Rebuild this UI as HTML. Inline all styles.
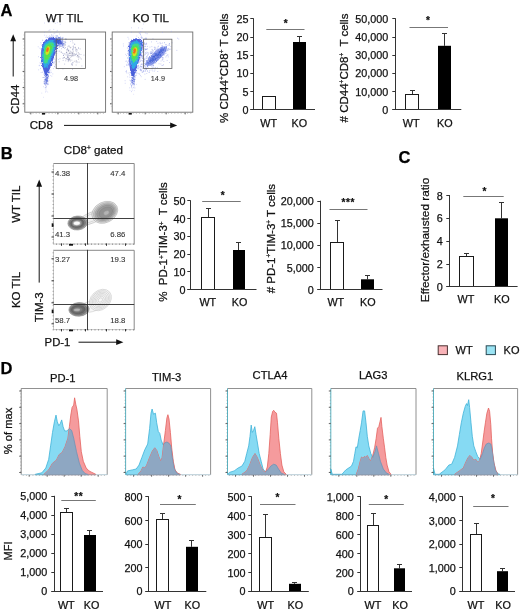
<!DOCTYPE html>
<html lang="en"><head><meta charset="utf-8"><title>Figure</title>
<style>html,body{margin:0;padding:0;background:#fff;}body{width:520px;height:609px;overflow:hidden;}svg{display:block;font-family:'Liberation Sans', sans-serif;}</style>
</head><body>
<svg width="520" height="609" viewBox="0 0 520 609">
<defs>
<filter id="b1" x="-20%" y="-20%" width="140%" height="140%"><feTurbulence type="fractalNoise" baseFrequency="0.8" numOctaves="2" seed="4" result="n"/><feDisplacementMap in="SourceGraphic" in2="n" scale="3" xChannelSelector="R" yChannelSelector="G"/><feGaussianBlur stdDeviation="0.6"/></filter>
<filter id="b2" x="-20%" y="-20%" width="140%" height="140%"><feGaussianBlur stdDeviation="0.45"/></filter>
<filter id="b3" x="-20%" y="-20%" width="140%" height="140%"><feGaussianBlur stdDeviation="0.3"/></filter>
</defs>
<rect x="0" y="0" width="520" height="609" fill="#fff"/>
<text x="0.60" y="15.50" font-size="16.5" text-anchor="start" font-weight="bold" fill="#000" stroke="#000" stroke-width="0.25" >A</text>
<text x="64.40" y="21.90" font-size="11.5" text-anchor="middle" font-weight="normal" fill="#111" stroke="#111" stroke-width="0.25" >WT TIL</text>
<text x="150.90" y="21.90" font-size="11.5" text-anchor="middle" font-weight="normal" fill="#111" stroke="#111" stroke-width="0.25" >KO TIL</text>
<rect x="24.80" y="32.00" width="80.80" height="80.20" fill="none" stroke="#6e6e6e" stroke-width="0.9" />
<line x1="22.60" y1="39.00" x2="24.30" y2="39.00" stroke="#555" stroke-width="1" />
<line x1="22.60" y1="55.20" x2="24.30" y2="55.20" stroke="#555" stroke-width="1" />
<line x1="22.60" y1="71.40" x2="24.30" y2="71.40" stroke="#555" stroke-width="1" />
<line x1="22.60" y1="87.60" x2="24.30" y2="87.60" stroke="#555" stroke-width="1" />
<line x1="22.60" y1="103.80" x2="24.30" y2="103.80" stroke="#555" stroke-width="1" />
<line x1="23.50" y1="35.00" x2="24.30" y2="35.00" stroke="#999" stroke-width="0.5" />
<line x1="23.50" y1="38.40" x2="24.30" y2="38.40" stroke="#999" stroke-width="0.5" />
<line x1="23.50" y1="41.80" x2="24.30" y2="41.80" stroke="#999" stroke-width="0.5" />
<line x1="23.50" y1="45.20" x2="24.30" y2="45.20" stroke="#999" stroke-width="0.5" />
<line x1="23.50" y1="48.60" x2="24.30" y2="48.60" stroke="#999" stroke-width="0.5" />
<line x1="23.50" y1="52.00" x2="24.30" y2="52.00" stroke="#999" stroke-width="0.5" />
<line x1="23.50" y1="55.40" x2="24.30" y2="55.40" stroke="#999" stroke-width="0.5" />
<line x1="23.50" y1="58.80" x2="24.30" y2="58.80" stroke="#999" stroke-width="0.5" />
<line x1="23.50" y1="62.20" x2="24.30" y2="62.20" stroke="#999" stroke-width="0.5" />
<line x1="23.50" y1="65.60" x2="24.30" y2="65.60" stroke="#999" stroke-width="0.5" />
<line x1="23.50" y1="69.00" x2="24.30" y2="69.00" stroke="#999" stroke-width="0.5" />
<line x1="23.50" y1="72.40" x2="24.30" y2="72.40" stroke="#999" stroke-width="0.5" />
<line x1="23.50" y1="75.80" x2="24.30" y2="75.80" stroke="#999" stroke-width="0.5" />
<line x1="23.50" y1="79.20" x2="24.30" y2="79.20" stroke="#999" stroke-width="0.5" />
<line x1="23.50" y1="82.60" x2="24.30" y2="82.60" stroke="#999" stroke-width="0.5" />
<line x1="23.50" y1="86.00" x2="24.30" y2="86.00" stroke="#999" stroke-width="0.5" />
<line x1="23.50" y1="89.40" x2="24.30" y2="89.40" stroke="#999" stroke-width="0.5" />
<line x1="23.50" y1="92.80" x2="24.30" y2="92.80" stroke="#999" stroke-width="0.5" />
<line x1="23.50" y1="96.20" x2="24.30" y2="96.20" stroke="#999" stroke-width="0.5" />
<line x1="23.50" y1="99.60" x2="24.30" y2="99.60" stroke="#999" stroke-width="0.5" />
<line x1="23.50" y1="103.00" x2="24.30" y2="103.00" stroke="#999" stroke-width="0.5" />
<line x1="23.50" y1="106.40" x2="24.30" y2="106.40" stroke="#999" stroke-width="0.5" />
<line x1="29.80" y1="112.80" x2="29.80" y2="113.80" stroke="#999" stroke-width="0.6" />
<line x1="33.00" y1="112.80" x2="33.00" y2="113.80" stroke="#999" stroke-width="0.6" />
<line x1="36.20" y1="112.80" x2="36.20" y2="113.80" stroke="#999" stroke-width="0.6" />
<line x1="39.40" y1="112.80" x2="39.40" y2="113.80" stroke="#999" stroke-width="0.6" />
<line x1="42.60" y1="112.80" x2="42.60" y2="113.80" stroke="#999" stroke-width="0.6" />
<line x1="45.80" y1="112.80" x2="45.80" y2="113.80" stroke="#999" stroke-width="0.6" />
<line x1="49.00" y1="112.80" x2="49.00" y2="113.80" stroke="#999" stroke-width="0.6" />
<line x1="52.20" y1="112.80" x2="52.20" y2="113.80" stroke="#999" stroke-width="0.6" />
<line x1="55.40" y1="112.80" x2="55.40" y2="113.80" stroke="#999" stroke-width="0.6" />
<line x1="58.60" y1="112.80" x2="58.60" y2="113.80" stroke="#999" stroke-width="0.6" />
<line x1="61.80" y1="112.80" x2="61.80" y2="113.80" stroke="#999" stroke-width="0.6" />
<line x1="65.00" y1="112.80" x2="65.00" y2="113.80" stroke="#999" stroke-width="0.6" />
<line x1="68.20" y1="112.80" x2="68.20" y2="113.80" stroke="#999" stroke-width="0.6" />
<line x1="71.40" y1="112.80" x2="71.40" y2="113.80" stroke="#999" stroke-width="0.6" />
<line x1="74.60" y1="112.80" x2="74.60" y2="113.80" stroke="#999" stroke-width="0.6" />
<line x1="77.80" y1="112.80" x2="77.80" y2="113.80" stroke="#999" stroke-width="0.6" />
<line x1="81.00" y1="112.80" x2="81.00" y2="113.80" stroke="#999" stroke-width="0.6" />
<line x1="84.20" y1="112.80" x2="84.20" y2="113.80" stroke="#999" stroke-width="0.6" />
<line x1="87.40" y1="112.80" x2="87.40" y2="113.80" stroke="#999" stroke-width="0.6" />
<line x1="90.60" y1="112.80" x2="90.60" y2="113.80" stroke="#999" stroke-width="0.6" />
<line x1="93.80" y1="112.80" x2="93.80" y2="113.80" stroke="#999" stroke-width="0.6" />
<line x1="97.00" y1="112.80" x2="97.00" y2="113.80" stroke="#999" stroke-width="0.6" />
<line x1="100.20" y1="112.80" x2="100.20" y2="113.80" stroke="#999" stroke-width="0.6" />
<line x1="103.40" y1="112.80" x2="103.40" y2="113.80" stroke="#999" stroke-width="0.6" />
<line x1="30.80" y1="112.70" x2="30.80" y2="114.40" stroke="#555" stroke-width="0.9" />
<line x1="57.80" y1="112.70" x2="57.80" y2="114.40" stroke="#555" stroke-width="0.9" />
<line x1="78.80" y1="112.70" x2="78.80" y2="114.40" stroke="#555" stroke-width="0.9" />
<line x1="97.80" y1="112.70" x2="97.80" y2="114.40" stroke="#555" stroke-width="0.9" />
<line x1="41.90" y1="113.80" x2="45.10" y2="113.80" stroke="#111" stroke-width="1.6" />
<path d="M46.7 60.0h0.8M48.0 50.1h0.8M44.9 51.0h0.8M52.5 59.6h0.8M52.5 57.5h0.8M49.9 56.4h0.8M40.3 63.4h0.8M49.9 60.2h0.8M44.0 32.4h0.8M45.5 48.0h0.8M49.8 53.6h0.8M51.6 46.6h0.8M49.2 58.9h0.8M43.3 74.1h0.8M49.1 68.5h0.8M47.0 44.9h0.8M47.2 52.6h0.8M50.8 57.3h0.8M48.0 42.4h0.8M44.6 68.3h0.8M44.8 56.5h0.8M52.4 36.5h0.8M46.8 69.6h0.8M40.6 49.2h0.8M49.2 44.2h0.8M50.7 53.5h0.8M41.2 63.1h0.8M49.9 65.6h0.8M54.0 59.0h0.8M50.9 38.6h0.8M51.9 47.0h0.8M48.4 38.7h0.8M45.2 47.2h0.8M56.8 30.4h0.8M42.1 56.1h0.8M53.7 61.6h0.8M44.2 23.0h0.8M51.0 45.4h0.8M42.4 65.1h0.8M52.9 56.4h0.8M48.9 59.3h0.8M54.3 62.2h0.8M49.9 60.8h0.8M40.1 68.5h0.8M51.7 60.8h0.8M41.2 45.5h0.8M54.6 32.8h0.8M46.3 66.1h0.8M40.7 72.5h0.8M51.0 52.5h0.8M48.9 61.9h0.8M47.4 67.7h0.8M46.3 48.7h0.8M52.8 54.8h0.8M43.5 64.8h0.8M55.2 49.4h0.8M42.9 51.7h0.8M48.3 50.4h0.8M55.8 42.5h0.8M55.6 39.5h0.8M44.3 61.1h0.8M52.0 64.8h0.8M49.7 55.9h0.8M48.3 60.9h0.8M47.4 57.2h0.8M50.9 54.3h0.8M50.9 61.1h0.8M56.4 58.9h0.8M47.3 49.3h0.8M47.1 65.0h0.8M46.5 58.4h0.8M59.8 24.4h0.8M43.5 56.3h0.8M49.8 57.0h0.8M45.8 61.6h0.8M50.4 47.9h0.8M58.1 59.5h0.8M46.3 52.5h0.8M47.6 53.1h0.8M37.8 46.8h0.8M54.4 40.6h0.8M46.9 65.3h0.8M49.9 72.2h0.8M41.9 48.9h0.8M46.2 61.3h0.8M56.9 22.6h0.8M55.1 37.3h0.8M53.5 36.6h0.8M47.5 68.3h0.8M47.6 56.2h0.8M51.6 56.1h0.8M45.9 72.2h0.8M53.3 51.0h0.8M61.6 41.7h0.8M52.7 51.3h0.8M48.0 62.5h0.8M48.5 61.7h0.8M44.3 35.2h0.8M52.4 42.8h0.8M46.3 36.0h0.8M52.7 63.5h0.8M56.0 43.6h0.8M50.1 40.4h0.8M49.4 73.3h0.8M42.5 72.1h0.8M52.9 52.4h0.8M38.3 69.8h0.8M49.0 46.8h0.8M49.6 59.1h0.8M56.2 42.6h0.8M51.1 72.3h0.8M54.8 52.6h0.8M43.9 65.8h0.8M48.8 55.5h0.8M54.8 51.6h0.8M39.5 48.2h0.8M39.6 62.8h0.8M50.7 46.9h0.8M47.3 63.9h0.8M46.9 69.8h0.8M46.7 66.4h0.8M52.4 73.9h0.8M44.4 64.1h0.8M42.2 40.2h0.8M38.8 65.7h0.8M43.4 53.2h0.8M47.7 53.6h0.8M45.7 56.5h0.8M55.9 55.4h0.8M49.3 66.2h0.8M49.5 38.9h0.8M44.6 66.5h0.8M42.5 46.0h0.8M51.6 64.0h0.8M47.4 63.6h0.8M50.9 40.0h0.8M42.9 45.6h0.8M53.2 47.7h0.8M45.8 44.4h0.8M42.3 51.8h0.8M43.1 57.7h0.8M38.2 56.7h0.8M48.6 30.5h0.8M51.9 51.1h0.8M40.5 42.5h0.8M50.4 48.7h0.8M50.7 63.3h0.8M50.8 58.2h0.8M53.1 62.5h0.8M53.4 29.4h0.8M50.4 70.1h0.8M47.9 48.3h0.8M59.1 34.0h0.8M47.0 83.1h0.8M43.6 61.7h0.8M56.5 53.5h0.8M49.5 65.0h0.8M44.9 52.5h0.8M48.5 64.0h0.8M48.6 51.7h0.8M44.8 49.2h0.8M52.1 55.7h0.8M46.2 43.5h0.8M58.0 68.9h0.8M54.9 23.4h0.8M50.4 60.0h0.8M54.9 59.9h0.8M47.5 60.2h0.8M38.9 65.3h0.8M50.9 45.8h0.8M51.4 76.2h0.8M43.6 45.4h0.8M49.5 56.3h0.8M48.2 42.2h0.8M55.9 67.4h0.8M45.5 37.4h0.8M54.2 66.6h0.8M54.9 64.6h0.8M44.5 56.7h0.8M40.6 44.0h0.8M47.5 60.2h0.8M45.6 52.2h0.8M49.9 58.7h0.8M50.9 56.8h0.8M46.0 63.2h0.8M49.9 44.2h0.8M45.9 53.7h0.8M47.8 55.8h0.8M48.2 56.1h0.8M49.7 38.9h0.8M48.7 66.8h0.8M50.6 52.0h0.8M51.7 42.7h0.8M40.5 53.8h0.8M43.6 62.3h0.8M47.8 22.1h0.8M41.9 72.3h0.8M48.9 37.5h0.8M44.6 59.8h0.8M50.3 56.4h0.8M53.7 63.2h0.8M47.6 61.1h0.8M54.0 66.4h0.8M54.3 41.6h0.8M46.8 62.6h0.8M45.7 66.6h0.8M49.7 65.1h0.8M44.0 84.2h0.8M54.0 52.1h0.8M45.1 85.0h0.8M45.8 64.2h0.8M52.6 54.6h0.8M43.4 55.6h0.8M48.4 67.6h0.8M51.7 54.7h0.8M51.3 60.9h0.8M49.3 54.8h0.8M46.5 62.1h0.8M45.0 46.0h0.8M50.6 36.6h0.8M49.6 29.8h0.8M44.8 60.4h0.8M50.9 53.6h0.8M49.6 37.0h0.8M55.4 61.1h0.8M54.3 44.0h0.8M50.3 32.2h0.8M50.4 65.5h0.8M40.7 52.4h0.8M53.7 33.3h0.8M42.4 40.4h0.8M47.9 37.0h0.8M48.3 57.0h0.8M50.1 62.7h0.8M53.1 68.6h0.8M43.8 47.3h0.8M45.6 40.6h0.8M48.2 54.0h0.8M52.8 35.3h0.8M43.4 53.1h0.8M48.1 50.2h0.8M49.3 44.9h0.8M50.9 58.6h0.8M49.1 45.9h0.8M51.7 21.5h0.8M44.4 54.0h0.8M41.9 55.6h0.8M51.1 37.7h0.8M47.9 50.1h0.8M49.5 61.5h0.8M49.6 43.8h0.8M48.0 53.1h0.8M51.1 57.9h0.8M47.4 37.5h0.8M48.0 45.0h0.8M44.0 52.1h0.8M46.3 55.0h0.8M51.3 49.3h0.8M58.7 51.3h0.8M52.9 56.0h0.8" stroke="#8d97ea" stroke-width="0.80" stroke-opacity="0.55" fill="none" stroke-linecap="butt"/>
<path d="M62.6 37.4h0.8M51.2 42.6h0.8M55.7 51.0h0.8M55.3 47.4h0.8M57.8 47.0h0.8M57.6 43.3h0.8M58.5 40.5h0.8M61.6 41.6h0.8M54.2 49.9h0.8M53.9 42.7h0.8M60.5 44.8h0.8M50.9 42.6h0.8M57.1 46.0h0.8M49.7 47.2h0.8M62.9 45.5h0.8M56.7 42.1h0.8M62.4 42.9h0.8M58.7 42.5h0.8M51.0 44.2h0.8M61.4 44.9h0.8M51.0 44.5h0.8M54.5 43.9h0.8M61.2 48.7h0.8M50.4 49.2h0.8M54.3 45.4h0.8M52.0 41.9h0.8M45.0 45.9h0.8M62.7 41.3h0.8M49.3 35.8h0.8M61.1 43.3h0.8M55.0 42.0h0.8M55.5 39.5h0.8M56.5 38.6h0.8M54.4 43.8h0.8M57.5 43.0h0.8M50.5 42.2h0.8M51.2 47.1h0.8M58.8 43.8h0.8M53.4 40.2h0.8M50.9 40.5h0.8M55.9 45.0h0.8M55.7 50.3h0.8M51.6 42.0h0.8M70.1 41.4h0.8M52.3 42.7h0.8M55.4 44.5h0.8M53.5 43.8h0.8M54.5 45.4h0.8M46.8 37.5h0.8M56.0 39.8h0.8M49.4 43.4h0.8M51.3 44.0h0.8M58.3 45.0h0.8M57.5 43.4h0.8M48.3 40.8h0.8M57.7 42.1h0.8M53.8 45.1h0.8M50.2 43.7h0.8M64.4 44.1h0.8M55.8 42.8h0.8M62.1 46.2h0.8M59.9 42.2h0.8M54.9 42.9h0.8M45.2 44.8h0.8M61.0 39.0h0.8M58.7 43.7h0.8M56.8 44.8h0.8M48.0 40.1h0.8M62.7 43.4h0.8M51.4 37.3h0.8M48.8 42.2h0.8M62.7 46.8h0.8M54.1 50.2h0.8M53.2 40.2h0.8M57.0 45.5h0.8M51.3 37.9h0.8M56.2 44.2h0.8M48.9 40.5h0.8M52.0 43.6h0.8M54.5 42.6h0.8M52.3 45.7h0.8M62.0 43.9h0.8M59.8 41.9h0.8M54.6 45.4h0.8M62.6 44.1h0.8M54.5 43.5h0.8M47.8 40.8h0.8M51.4 43.1h0.8M51.5 35.3h0.8M54.9 43.9h0.8M51.5 44.9h0.8M54.3 40.7h0.8M58.8 38.9h0.8M51.8 41.9h0.8M59.2 43.8h0.8M57.1 41.5h0.8M54.9 48.5h0.8M49.5 49.2h0.8M51.9 42.1h0.8M54.9 46.4h0.8M51.1 34.8h0.8M57.1 46.3h0.8M55.5 52.0h0.8M55.7 44.1h0.8M59.1 45.5h0.8M64.1 41.7h0.8M56.5 31.9h0.8M59.2 43.1h0.8M57.4 51.0h0.8M55.2 42.2h0.8M53.4 39.7h0.8M51.4 44.0h0.8M55.1 43.3h0.8M53.3 45.5h0.8M57.5 43.3h0.8M58.3 43.5h0.8M48.1 45.7h0.8M58.1 40.8h0.8M59.8 45.6h0.8M46.0 45.6h0.8" stroke="#7f8ce6" stroke-width="0.80" stroke-opacity="0.55" fill="none" stroke-linecap="butt"/>
<path d="M46.2 86.3h0.8M46.4 79.0h0.8M43.2 86.7h0.8M46.1 78.0h0.8M46.5 80.6h0.8M47.2 77.5h0.8M46.7 65.0h0.8M45.1 84.7h0.8M48.3 77.6h0.8M45.3 91.1h0.8M45.2 85.1h0.8M48.7 80.4h0.8M48.2 75.1h0.8M46.4 79.5h0.8M45.8 87.9h0.8M50.1 75.5h0.8M44.9 83.4h0.8M44.1 83.4h0.8M47.0 78.1h0.8M47.4 69.2h0.8M47.8 69.3h0.8M45.1 76.1h0.8M45.1 86.0h0.8M46.3 77.2h0.8M46.3 91.1h0.8M45.9 82.6h0.8M47.9 82.0h0.8M43.1 97.3h0.8M50.2 66.3h0.8M45.8 82.9h0.8M47.3 84.8h0.8M45.9 72.6h0.8M45.8 87.2h0.8M44.6 72.7h0.8M46.6 66.5h0.8M45.7 76.9h0.8M47.0 75.1h0.8M44.7 77.2h0.8M46.2 75.3h0.8M45.8 85.2h0.8M47.3 92.0h0.8M44.9 77.0h0.8M41.4 93.1h0.8M44.9 79.7h0.8M47.3 70.5h0.8M46.8 79.9h0.8M43.0 81.9h0.8M48.6 67.0h0.8M47.2 81.5h0.8M46.6 83.1h0.8M48.2 78.5h0.8M47.5 77.2h0.8M47.4 74.4h0.8M45.2 92.1h0.8M46.8 78.9h0.8M44.4 74.4h0.8M46.0 86.6h0.8M46.5 83.7h0.8M45.5 89.4h0.8M45.6 76.1h0.8" stroke="#a9b0ee" stroke-width="0.80" stroke-opacity="0.5" fill="none" stroke-linecap="butt"/>
<g filter="url(#b1)">
<path d="M46.8 39.0C48.1 38.3 50.1 37.6 51.7 37.6C53.3 37.6 55.2 38.3 56.4 38.8C57.5 39.3 58.4 39.6 58.6 40.6C58.8 41.6 58.2 43.4 57.8 45.0C57.4 46.6 56.8 48.3 56.2 50.2C55.6 52.1 55.0 54.2 54.2 56.6C53.4 59.0 52.4 62.0 51.5 64.5C50.6 67.0 49.7 69.5 48.9 71.4C48.1 73.3 47.3 75.7 46.6 76.0C45.9 76.3 45.3 75.0 44.6 73.4C43.9 71.8 43.0 68.8 42.4 66.5C41.8 64.2 41.5 62.1 41.3 59.6C41.1 57.1 41.1 54.0 41.2 51.7C41.3 49.4 41.6 47.5 42.1 45.8C42.6 44.1 43.3 42.8 44.1 41.7C44.9 40.6 45.5 39.7 46.8 39.0Z" fill="#4d63de" />
<path d="M46.1 42.1C47.3 41.4 49.3 40.2 50.9 40.0C52.5 39.8 54.9 40.2 55.8 41.1C56.6 42.0 56.6 43.3 56.2 45.3C55.8 47.2 54.5 50.3 53.6 52.7C52.7 55.2 51.9 57.9 50.9 60.2C49.9 62.5 48.7 65.3 47.8 66.6C46.8 67.8 45.9 68.4 45.1 67.7C44.3 66.9 43.4 64.5 42.9 62.4C42.5 60.2 42.4 57.2 42.4 54.9C42.4 52.6 42.6 50.2 42.9 48.4C43.2 46.6 43.4 45.3 44.0 44.2C44.5 43.2 45.0 42.8 46.1 42.1Z" fill="#2fa8e6" />
<path d="M46.6 43.8C47.5 43.2 49.0 42.4 50.2 42.3C51.4 42.2 53.0 42.5 53.6 43.4C54.2 44.3 54.0 46.1 53.6 47.8C53.2 49.5 52.2 51.7 51.4 53.7C50.6 55.7 49.8 57.9 48.9 59.6C48.0 61.3 47.1 63.6 46.3 64.0C45.5 64.4 44.7 63.2 44.2 61.8C43.8 60.4 43.6 57.6 43.6 55.6C43.6 53.6 43.8 51.3 44.0 49.7C44.2 48.1 44.6 47.0 45.0 46.0C45.4 45.0 45.7 44.4 46.6 43.8Z" fill="#3fdc8c" />
<path d="M46.9 45.7C47.5 45.2 48.8 44.6 49.6 44.6C50.5 44.6 51.5 44.8 51.8 45.5C52.2 46.2 52.0 47.5 51.7 48.8C51.4 50.2 50.6 52.0 50.0 53.5C49.4 55.1 48.8 56.9 48.2 58.0C47.5 59.1 46.8 60.2 46.3 60.2C45.8 60.3 45.3 59.2 45.0 58.2C44.8 57.2 44.7 55.7 44.7 54.3C44.7 53.0 44.9 51.0 45.0 49.8C45.2 48.7 45.5 48.0 45.8 47.4C46.1 46.7 46.2 46.2 46.9 45.7Z" fill="#5ae04a" />
</g>
<g filter="url(#b2)">
<ellipse cx="47.7" cy="50.6" rx="1.9" ry="4.4" fill="#d4e224" transform="rotate(14 47.7 50.6)"/>
<ellipse cx="47.5" cy="49.6" rx="1.25" ry="2.5" fill="#f2701c" transform="rotate(14 47.5 49.6)"/>
</g>
<path d="M60.6 42.5h0.8M58.3 40.2h0.8M57.4 42.3h0.8M60.2 39.7h0.8M59.4 42.2h0.8M55.5 41.8h0.8M58.1 40.6h0.8M59.4 44.6h0.8M56.5 41.6h0.8M54.7 44.7h0.8M56.4 43.1h0.8M56.3 42.3h0.8M65.7 39.3h0.8M57.1 41.9h0.8M58.8 40.2h0.8M63.6 43.8h0.8M53.9 41.3h0.8M53.5 41.8h0.8M57.0 41.2h0.8M61.4 43.0h0.8M56.4 37.1h0.8M60.8 44.0h0.8M55.9 42.2h0.8M59.2 43.1h0.8M53.3 38.7h0.8M60.1 43.7h0.8M62.4 38.1h0.8M58.5 42.5h0.8M65.3 42.4h0.8M57.7 41.2h0.8M60.9 41.6h0.8M61.8 41.3h0.8M59.5 40.8h0.8M59.4 40.5h0.8M53.9 41.8h0.8M59.6 40.8h0.8M58.2 43.4h0.8M56.2 40.3h0.8M59.4 43.0h0.8M59.3 37.5h0.8M61.2 43.3h0.8M58.7 41.0h0.8M59.4 41.0h0.8M56.6 39.2h0.8M57.5 39.8h0.8M55.3 41.4h0.8M54.9 41.3h0.8M55.8 41.1h0.8M61.6 43.2h0.8M56.7 40.8h0.8M60.1 38.6h0.8M56.9 41.2h0.8M57.3 41.2h0.8M59.7 43.6h0.8M60.2 43.4h0.8M57.8 41.2h0.8M58.1 40.7h0.8M59.3 38.3h0.8M57.7 41.1h0.8M56.2 40.5h0.8M59.9 41.7h0.8M65.4 39.0h0.8M59.4 38.1h0.8M58.9 47.1h0.8M52.4 39.2h0.8M60.0 41.5h0.8M61.5 38.1h0.8M60.3 43.0h0.8M59.0 40.5h0.8M60.4 41.3h0.8M59.4 40.8h0.8M53.1 39.2h0.8M58.4 43.0h0.8M56.4 40.6h0.8M59.9 42.4h0.8M60.0 46.2h0.8M57.7 37.2h0.8M59.4 45.0h0.8M60.1 43.9h0.8M57.5 39.6h0.8M61.3 40.8h0.8M54.9 37.9h0.8M63.0 47.4h0.8M57.4 39.5h0.8M59.6 40.4h0.8M61.7 42.7h0.8M54.9 42.7h0.8M56.9 41.3h0.8M58.7 40.9h0.8M59.8 40.6h0.8M55.7 35.8h0.8M56.0 38.9h0.8M58.4 41.6h0.8M59.7 42.3h0.8M57.1 39.5h0.8M53.6 39.1h0.8M59.3 42.9h0.8M58.3 41.1h0.8M60.7 42.5h0.8M59.8 43.3h0.8M58.0 44.0h0.8M57.4 40.3h0.8M57.2 39.3h0.8M60.9 46.2h0.8M58.1 42.5h0.8M60.7 44.1h0.8M62.3 40.5h0.8M56.6 41.6h0.8M61.9 43.1h0.8M56.7 40.0h0.8M57.6 39.3h0.8M62.6 41.9h0.8M56.9 45.3h0.8M61.1 43.3h0.8M56.7 41.6h0.8M61.9 44.2h0.8M61.4 42.9h0.8M59.9 41.7h0.8M58.6 44.2h0.8M55.1 39.9h0.8M59.5 40.7h0.8M57.2 42.6h0.8M62.8 44.6h0.8M60.4 39.1h0.8M63.1 43.6h0.8M59.2 39.5h0.8M59.2 39.5h0.8M58.3 42.4h0.8M58.4 42.0h0.8M55.4 43.1h0.8M58.3 37.7h0.8M58.6 40.0h0.8M56.3 39.9h0.8M60.1 39.7h0.8M57.1 43.9h0.8M60.2 41.9h0.8M58.9 41.4h0.8M57.8 42.7h0.8M60.1 37.2h0.8M59.1 39.9h0.8M60.5 41.1h0.8M57.2 45.5h0.8M56.8 38.5h0.8M56.9 35.9h0.8M53.7 40.2h0.8M58.4 37.6h0.8M54.5 41.1h0.8M56.9 40.1h0.8M58.3 44.2h0.8M62.4 45.3h0.8M58.7 42.0h0.8M61.8 45.8h0.8M57.4 42.0h0.8M59.1 41.9h0.8M58.3 38.7h0.8M58.4 38.3h0.8M61.0 43.7h0.8M54.6 42.7h0.8M62.0 39.1h0.8M62.3 44.8h0.8" stroke="#4058d4" stroke-width="0.80" stroke-opacity="0.75" fill="none" stroke-linecap="butt"/>
<path d="M48.9 71.7h0.8M46.5 78.9h0.8M46.2 77.8h0.8M47.8 70.4h0.8M45.0 70.6h0.8M45.6 74.2h0.8M46.3 78.2h0.8M46.3 74.0h0.8M45.1 81.2h0.8M46.9 77.5h0.8M45.1 83.9h0.8M45.1 79.9h0.8M47.5 75.9h0.8M47.4 72.1h0.8M47.1 78.0h0.8M43.9 79.9h0.8M44.5 82.7h0.8M45.2 76.2h0.8M46.5 75.5h0.8M46.5 74.5h0.8M46.8 77.1h0.8M47.2 64.7h0.8M47.4 77.3h0.8M43.8 77.3h0.8M46.2 81.8h0.8M44.1 83.8h0.8M44.9 87.7h0.8M45.6 80.0h0.8M46.0 72.0h0.8M47.0 81.2h0.8M47.5 81.0h0.8M45.9 69.5h0.8M45.5 73.9h0.8M44.8 79.5h0.8M46.5 75.8h0.8M46.3 76.4h0.8M46.0 80.4h0.8M47.4 74.0h0.8M43.7 83.3h0.8M45.7 82.0h0.8M44.2 75.4h0.8M46.6 70.5h0.8M45.1 80.2h0.8M46.7 84.3h0.8M45.5 70.6h0.8M46.3 81.3h0.8M46.7 71.2h0.8M46.7 80.6h0.8M46.8 74.9h0.8M46.1 80.6h0.8M46.0 68.7h0.8M46.2 79.2h0.8M45.7 81.0h0.8M45.3 76.6h0.8M45.4 79.5h0.8M48.0 76.0h0.8M47.9 84.1h0.8M46.7 79.7h0.8M48.2 76.4h0.8M46.2 72.2h0.8M46.1 83.1h0.8M46.5 78.9h0.8M45.7 77.7h0.8M43.9 81.6h0.8M45.9 72.0h0.8M45.4 73.2h0.8M46.6 81.8h0.8M44.0 81.0h0.8M47.3 74.5h0.8M44.5 73.5h0.8M45.1 78.5h0.8M46.3 67.9h0.8M46.8 70.1h0.8M47.5 71.7h0.8M45.5 73.1h0.8M44.9 82.8h0.8M46.8 79.8h0.8M46.9 70.1h0.8M45.6 74.5h0.8M44.6 79.2h0.8M45.4 73.7h0.8M45.5 67.7h0.8M46.2 83.0h0.8M46.6 72.6h0.8M42.7 77.5h0.8M47.3 78.4h0.8M46.6 83.7h0.8M47.5 75.1h0.8M47.0 80.6h0.8M44.3 75.0h0.8" stroke="#4a60d8" stroke-width="0.80" stroke-opacity="0.7" fill="none" stroke-linecap="butt"/>
<path d="M62.2 53.3h0.9M73.2 47.6h0.9M58.7 61.8h0.9M72.1 62.8h0.9M62.7 60.4h0.9M81.4 66.0h0.9M68.8 55.6h0.9M69.2 60.0h0.9M75.7 54.5h0.9M62.5 58.4h0.9M67.4 57.8h0.9M71.4 63.7h0.9M76.3 51.3h0.9M71.9 64.6h0.9M67.0 56.6h0.9M76.5 61.5h0.9M72.9 46.1h0.9M63.1 55.5h0.9M72.1 69.3h0.9M65.3 60.8h0.9M74.2 44.0h0.9M65.5 55.0h0.9M67.3 53.1h0.9M72.6 49.1h0.9M72.6 50.2h0.9M67.0 57.2h0.9M66.8 55.7h0.9M78.8 54.2h0.9M69.2 58.4h0.9M68.0 60.5h0.9M62.9 57.7h0.9M67.2 49.2h0.9M79.7 48.9h0.9M79.7 57.9h0.9M78.0 48.1h0.9M76.6 62.7h0.9M69.4 53.2h0.9M83.5 55.1h0.9M67.7 50.2h0.9M72.5 56.0h0.9M71.0 64.3h0.9M68.2 56.8h0.9M78.0 48.0h0.9M75.7 65.0h0.9M62.5 47.4h0.9M64.3 42.9h0.9M72.5 42.9h0.9M72.7 62.7h0.9M61.1 52.1h0.9M59.5 58.7h0.9M65.9 52.4h0.9M70.3 57.3h0.9M68.1 54.1h0.9M67.0 54.7h0.9M63.6 54.4h0.9M59.4 51.1h0.9M80.5 54.5h0.9M63.1 55.5h0.9M64.7 44.1h0.9M65.9 58.4h0.9M72.1 53.4h0.9M64.9 47.5h0.9M77.4 55.5h0.9M64.8 41.3h0.9M62.5 68.9h0.9M63.7 53.5h0.9M71.2 53.1h0.9M68.5 45.8h0.9M64.2 64.1h0.9M65.8 59.1h0.9M60.7 52.4h0.9M71.4 60.2h0.9M63.8 57.6h0.9M72.1 49.6h0.9M72.6 48.6h0.9M65.6 53.9h0.9M55.1 53.3h0.9M64.5 45.2h0.9M67.7 58.6h0.9M67.8 61.6h0.9M63.6 46.1h0.9M78.5 56.4h0.9M75.2 49.0h0.9M74.4 55.6h0.9M73.6 54.2h0.9M76.6 50.1h0.9M64.7 45.1h0.9M76.4 49.6h0.9M64.3 48.4h0.9M67.6 46.4h0.9M68.4 50.2h0.9M67.0 48.2h0.9M70.2 51.2h0.9M70.6 55.5h0.9M71.9 40.9h0.9M67.1 49.2h0.9M74.3 44.5h0.9M66.1 52.2h0.9M68.2 59.9h0.9M67.6 59.8h0.9M61.9 43.1h0.9M76.7 56.6h0.9M72.7 54.7h0.9M72.7 46.7h0.9M75.2 50.8h0.9M75.4 54.5h0.9M59.1 46.3h0.9M76.2 53.2h0.9M67.8 55.5h0.9M67.7 50.7h0.9" stroke="#8e93c0" stroke-width="0.90" stroke-opacity="0.6" fill="none" stroke-linecap="butt"/>
<path d="M72.4 55.6h0.9M77.3 55.2h0.9M78.6 62.2h0.9M78.0 59.2h0.9M72.5 55.5h0.9M71.5 52.1h0.9M71.8 52.4h0.9M77.7 57.1h0.9M70.4 47.3h0.9M71.8 53.3h0.9M68.2 50.5h0.9M64.1 57.3h0.9M71.8 65.3h0.9M71.9 54.4h0.9M77.1 55.5h0.9M72.6 53.5h0.9M69.9 61.0h0.9M75.5 61.9h0.9M70.8 55.1h0.9M68.9 58.9h0.9M67.1 57.3h0.9M75.8 60.6h0.9M68.7 59.4h0.9M69.5 52.0h0.9M67.4 59.6h0.9M77.8 52.6h0.9M69.3 53.6h0.9M80.8 59.0h0.9M70.1 47.8h0.9M69.6 59.7h0.9M78.5 53.9h0.9M69.6 53.0h0.9M65.4 58.6h0.9M68.2 59.3h0.9M66.0 49.9h0.9M73.0 51.9h0.9M74.7 55.0h0.9M67.9 57.5h0.9M74.9 47.3h0.9M78.4 57.0h0.9M74.7 47.6h0.9M69.5 53.6h0.9M75.8 49.2h0.9M68.9 46.9h0.9M71.2 56.4h0.9M66.1 52.6h0.9M73.8 61.3h0.9M74.3 53.8h0.9M67.9 51.3h0.9M69.7 55.6h0.9" stroke="#8a8aa8" stroke-width="0.90" stroke-opacity="0.6" fill="none" stroke-linecap="butt"/>
<rect x="56.20" y="39.20" width="29.20" height="29.20" fill="none" stroke="#606060" stroke-width="0.8" />
<text x="71.00" y="80.80" font-size="7.3" text-anchor="middle" font-weight="normal" fill="#3a3a3a" stroke="#3a3a3a" stroke-width="0.1" >4.98</text>
<rect x="112.20" y="32.00" width="80.60" height="80.20" fill="none" stroke="#6e6e6e" stroke-width="0.9" />
<line x1="110.00" y1="39.00" x2="111.70" y2="39.00" stroke="#555" stroke-width="1" />
<line x1="110.00" y1="55.20" x2="111.70" y2="55.20" stroke="#555" stroke-width="1" />
<line x1="110.00" y1="71.40" x2="111.70" y2="71.40" stroke="#555" stroke-width="1" />
<line x1="110.00" y1="87.60" x2="111.70" y2="87.60" stroke="#555" stroke-width="1" />
<line x1="110.00" y1="103.80" x2="111.70" y2="103.80" stroke="#555" stroke-width="1" />
<line x1="110.90" y1="35.00" x2="111.70" y2="35.00" stroke="#999" stroke-width="0.5" />
<line x1="110.90" y1="38.40" x2="111.70" y2="38.40" stroke="#999" stroke-width="0.5" />
<line x1="110.90" y1="41.80" x2="111.70" y2="41.80" stroke="#999" stroke-width="0.5" />
<line x1="110.90" y1="45.20" x2="111.70" y2="45.20" stroke="#999" stroke-width="0.5" />
<line x1="110.90" y1="48.60" x2="111.70" y2="48.60" stroke="#999" stroke-width="0.5" />
<line x1="110.90" y1="52.00" x2="111.70" y2="52.00" stroke="#999" stroke-width="0.5" />
<line x1="110.90" y1="55.40" x2="111.70" y2="55.40" stroke="#999" stroke-width="0.5" />
<line x1="110.90" y1="58.80" x2="111.70" y2="58.80" stroke="#999" stroke-width="0.5" />
<line x1="110.90" y1="62.20" x2="111.70" y2="62.20" stroke="#999" stroke-width="0.5" />
<line x1="110.90" y1="65.60" x2="111.70" y2="65.60" stroke="#999" stroke-width="0.5" />
<line x1="110.90" y1="69.00" x2="111.70" y2="69.00" stroke="#999" stroke-width="0.5" />
<line x1="110.90" y1="72.40" x2="111.70" y2="72.40" stroke="#999" stroke-width="0.5" />
<line x1="110.90" y1="75.80" x2="111.70" y2="75.80" stroke="#999" stroke-width="0.5" />
<line x1="110.90" y1="79.20" x2="111.70" y2="79.20" stroke="#999" stroke-width="0.5" />
<line x1="110.90" y1="82.60" x2="111.70" y2="82.60" stroke="#999" stroke-width="0.5" />
<line x1="110.90" y1="86.00" x2="111.70" y2="86.00" stroke="#999" stroke-width="0.5" />
<line x1="110.90" y1="89.40" x2="111.70" y2="89.40" stroke="#999" stroke-width="0.5" />
<line x1="110.90" y1="92.80" x2="111.70" y2="92.80" stroke="#999" stroke-width="0.5" />
<line x1="110.90" y1="96.20" x2="111.70" y2="96.20" stroke="#999" stroke-width="0.5" />
<line x1="110.90" y1="99.60" x2="111.70" y2="99.60" stroke="#999" stroke-width="0.5" />
<line x1="110.90" y1="103.00" x2="111.70" y2="103.00" stroke="#999" stroke-width="0.5" />
<line x1="110.90" y1="106.40" x2="111.70" y2="106.40" stroke="#999" stroke-width="0.5" />
<line x1="117.20" y1="112.80" x2="117.20" y2="113.80" stroke="#999" stroke-width="0.6" />
<line x1="120.40" y1="112.80" x2="120.40" y2="113.80" stroke="#999" stroke-width="0.6" />
<line x1="123.60" y1="112.80" x2="123.60" y2="113.80" stroke="#999" stroke-width="0.6" />
<line x1="126.80" y1="112.80" x2="126.80" y2="113.80" stroke="#999" stroke-width="0.6" />
<line x1="130.00" y1="112.80" x2="130.00" y2="113.80" stroke="#999" stroke-width="0.6" />
<line x1="133.20" y1="112.80" x2="133.20" y2="113.80" stroke="#999" stroke-width="0.6" />
<line x1="136.40" y1="112.80" x2="136.40" y2="113.80" stroke="#999" stroke-width="0.6" />
<line x1="139.60" y1="112.80" x2="139.60" y2="113.80" stroke="#999" stroke-width="0.6" />
<line x1="142.80" y1="112.80" x2="142.80" y2="113.80" stroke="#999" stroke-width="0.6" />
<line x1="146.00" y1="112.80" x2="146.00" y2="113.80" stroke="#999" stroke-width="0.6" />
<line x1="149.20" y1="112.80" x2="149.20" y2="113.80" stroke="#999" stroke-width="0.6" />
<line x1="152.40" y1="112.80" x2="152.40" y2="113.80" stroke="#999" stroke-width="0.6" />
<line x1="155.60" y1="112.80" x2="155.60" y2="113.80" stroke="#999" stroke-width="0.6" />
<line x1="158.80" y1="112.80" x2="158.80" y2="113.80" stroke="#999" stroke-width="0.6" />
<line x1="162.00" y1="112.80" x2="162.00" y2="113.80" stroke="#999" stroke-width="0.6" />
<line x1="165.20" y1="112.80" x2="165.20" y2="113.80" stroke="#999" stroke-width="0.6" />
<line x1="168.40" y1="112.80" x2="168.40" y2="113.80" stroke="#999" stroke-width="0.6" />
<line x1="171.60" y1="112.80" x2="171.60" y2="113.80" stroke="#999" stroke-width="0.6" />
<line x1="174.80" y1="112.80" x2="174.80" y2="113.80" stroke="#999" stroke-width="0.6" />
<line x1="178.00" y1="112.80" x2="178.00" y2="113.80" stroke="#999" stroke-width="0.6" />
<line x1="181.20" y1="112.80" x2="181.20" y2="113.80" stroke="#999" stroke-width="0.6" />
<line x1="184.40" y1="112.80" x2="184.40" y2="113.80" stroke="#999" stroke-width="0.6" />
<line x1="187.60" y1="112.80" x2="187.60" y2="113.80" stroke="#999" stroke-width="0.6" />
<line x1="190.80" y1="112.80" x2="190.80" y2="113.80" stroke="#999" stroke-width="0.6" />
<line x1="118.20" y1="112.70" x2="118.20" y2="114.40" stroke="#555" stroke-width="0.9" />
<line x1="145.20" y1="112.70" x2="145.20" y2="114.40" stroke="#555" stroke-width="0.9" />
<line x1="166.20" y1="112.70" x2="166.20" y2="114.40" stroke="#555" stroke-width="0.9" />
<line x1="185.20" y1="112.70" x2="185.20" y2="114.40" stroke="#555" stroke-width="0.9" />
<line x1="128.60" y1="113.80" x2="131.80" y2="113.80" stroke="#111" stroke-width="1.6" />
<path d="M132.9 74.1h0.8M137.3 42.8h0.8M139.7 66.4h0.8M136.2 46.8h0.8M129.1 42.6h0.8M139.4 46.2h0.8M129.8 56.7h0.8M135.2 62.0h0.8M135.9 71.4h0.8M130.7 65.9h0.8M130.5 62.6h0.8M135.4 57.9h0.8M138.7 55.2h0.8M138.2 65.4h0.8M136.2 48.6h0.8M132.8 48.7h0.8M134.3 54.6h0.8M145.5 63.4h0.8M138.9 45.4h0.8M132.7 51.1h0.8M136.9 43.2h0.8M141.7 49.2h0.8M141.8 28.7h0.8M134.7 58.2h0.8M135.0 62.0h0.8M135.9 57.0h0.8M128.7 46.1h0.8M125.4 61.3h0.8M136.4 52.9h0.8M132.6 48.0h0.8M140.0 75.5h0.8M133.3 69.7h0.8M131.2 32.3h0.8M134.2 44.8h0.8M132.7 56.9h0.8M147.2 48.6h0.8M134.9 58.2h0.8M133.8 65.6h0.8M143.1 41.4h0.8M135.9 52.0h0.8M138.1 37.6h0.8M131.0 27.8h0.8M136.8 57.4h0.8M138.0 27.9h0.8M134.5 46.2h0.8M130.7 44.0h0.8M137.0 61.5h0.8M134.3 60.9h0.8M132.6 55.6h0.8M134.5 61.4h0.8M134.9 53.3h0.8M135.2 47.6h0.8M142.9 61.7h0.8M134.0 81.4h0.8M142.1 37.7h0.8M136.7 64.9h0.8M140.6 70.8h0.8M139.3 41.8h0.8M131.4 57.7h0.8M138.1 43.5h0.8M134.0 50.3h0.8M134.8 58.9h0.8M135.3 40.7h0.8M137.9 73.7h0.8M133.4 66.7h0.8M135.9 62.7h0.8M137.7 46.4h0.8M136.0 66.8h0.8M129.4 77.2h0.8M140.8 76.7h0.8M141.7 64.3h0.8M134.4 48.0h0.8M131.8 56.0h0.8M134.1 62.7h0.8M124.7 80.7h0.8M143.6 55.6h0.8M137.0 60.7h0.8M136.3 52.7h0.8M135.5 45.5h0.8M135.7 54.8h0.8M137.2 45.3h0.8M135.1 55.6h0.8M138.5 43.1h0.8M135.5 66.4h0.8M137.7 51.0h0.8M133.4 52.1h0.8M136.0 73.0h0.8M135.1 47.6h0.8M136.2 57.5h0.8M132.4 46.2h0.8M133.8 62.6h0.8M131.7 42.9h0.8M138.3 41.2h0.8M135.0 59.1h0.8M135.7 43.3h0.8M135.2 51.2h0.8M137.2 45.5h0.8M141.1 36.2h0.8M134.3 55.0h0.8M139.3 48.4h0.8M137.7 48.7h0.8M135.8 75.2h0.8M133.0 59.9h0.8M130.4 65.8h0.8M139.5 55.9h0.8M130.2 59.2h0.8M138.1 67.9h0.8M140.2 34.4h0.8M130.8 71.0h0.8M129.1 67.5h0.8M141.2 64.4h0.8M139.6 51.6h0.8M130.5 53.4h0.8M134.3 54.4h0.8M137.8 53.6h0.8M135.2 59.9h0.8M132.9 76.1h0.8M136.6 56.1h0.8M134.9 47.8h0.8M139.9 57.2h0.8M131.6 48.2h0.8M135.0 49.9h0.8M140.4 42.1h0.8M136.7 56.8h0.8M130.5 55.1h0.8M134.1 60.7h0.8M132.9 58.3h0.8M129.9 42.0h0.8M136.8 67.2h0.8M135.6 48.1h0.8M141.5 31.5h0.8M131.2 62.4h0.8M138.7 43.4h0.8M126.2 70.9h0.8M136.6 44.8h0.8M134.2 65.3h0.8M123.9 66.7h0.8M140.2 31.5h0.8M140.0 34.9h0.8M138.9 60.0h0.8M144.2 48.9h0.8M133.8 67.0h0.8M133.4 46.7h0.8M133.7 54.0h0.8M130.4 60.1h0.8M137.0 56.0h0.8M141.8 51.9h0.8M140.6 49.2h0.8M140.1 33.1h0.8M135.9 53.1h0.8M133.8 47.8h0.8M134.5 46.6h0.8M127.4 47.3h0.8M133.5 48.8h0.8M131.2 53.0h0.8M138.3 52.4h0.8M131.6 70.3h0.8M137.6 65.9h0.8M139.7 51.7h0.8M133.2 67.7h0.8M133.0 53.4h0.8M136.0 59.4h0.8M132.8 66.1h0.8M133.5 63.2h0.8M138.3 62.9h0.8M139.1 42.0h0.8M130.8 47.4h0.8M135.1 72.4h0.8M130.0 58.0h0.8M132.6 46.3h0.8M133.2 62.8h0.8M134.5 68.6h0.8M130.3 64.8h0.8M138.4 56.1h0.8M137.5 48.7h0.8M131.3 49.9h0.8M129.3 87.8h0.8M131.3 73.7h0.8M135.4 58.6h0.8M138.7 46.4h0.8M138.0 59.7h0.8M128.6 61.3h0.8M136.6 60.4h0.8M141.5 50.9h0.8M136.1 63.8h0.8M130.2 68.4h0.8M131.0 39.6h0.8M138.2 42.7h0.8M136.4 36.1h0.8M136.6 42.1h0.8M138.1 37.6h0.8M137.0 52.1h0.8M135.3 54.3h0.8M137.0 39.9h0.8M125.3 54.4h0.8M132.0 49.4h0.8M138.9 32.4h0.8M132.8 47.7h0.8M130.6 58.3h0.8M135.4 45.6h0.8M130.4 63.9h0.8M131.8 61.4h0.8M138.9 33.5h0.8M130.9 54.6h0.8M135.4 64.1h0.8M136.8 67.1h0.8M133.8 52.5h0.8M138.4 50.4h0.8M140.8 37.2h0.8M137.7 53.3h0.8M126.4 65.5h0.8M136.2 55.4h0.8M131.5 49.3h0.8M141.7 46.1h0.8M122.9 43.9h0.8M130.6 53.0h0.8M134.6 44.4h0.8M130.6 66.7h0.8M127.3 76.8h0.8M134.2 42.3h0.8M137.3 61.8h0.8M130.2 63.2h0.8M129.1 43.7h0.8M139.6 52.5h0.8M129.5 60.4h0.8M138.5 55.1h0.8M128.6 50.4h0.8M135.7 64.0h0.8M142.3 52.8h0.8M133.2 54.4h0.8M140.6 44.7h0.8M143.1 24.0h0.8M138.8 47.6h0.8M135.9 63.1h0.8M130.6 53.6h0.8M135.2 61.8h0.8M132.6 43.3h0.8M124.8 83.3h0.8M134.5 52.4h0.8M128.3 65.1h0.8M131.3 71.2h0.8M138.2 55.6h0.8M139.0 42.6h0.8M134.4 48.3h0.8M130.2 54.7h0.8M132.8 71.4h0.8M123.1 46.0h0.8M132.1 49.3h0.8M136.1 59.8h0.8M135.7 49.6h0.8M136.5 59.3h0.8M128.3 51.3h0.8M131.2 41.0h0.8M135.5 55.7h0.8M136.4 45.0h0.8M135.3 44.5h0.8M135.7 63.0h0.8M140.2 70.2h0.8M132.5 49.5h0.8M131.1 58.1h0.8" stroke="#8d97ea" stroke-width="0.80" stroke-opacity="0.55" fill="none" stroke-linecap="butt"/>
<path d="M136.0 84.4h0.8M129.9 72.3h0.8M130.8 83.0h0.8M132.9 81.8h0.8M136.1 75.2h0.8M131.1 91.7h0.8M133.8 75.4h0.8M130.2 70.7h0.8M129.1 80.2h0.8M132.8 86.0h0.8M133.0 75.8h0.8M131.2 91.3h0.8M130.1 80.9h0.8M132.9 83.7h0.8M132.2 83.0h0.8M134.3 79.2h0.8M132.3 78.8h0.8M131.5 78.7h0.8M132.5 81.2h0.8M134.7 87.9h0.8M132.1 83.6h0.8M133.2 84.6h0.8M133.0 81.6h0.8M132.5 75.3h0.8M134.0 87.9h0.8M133.9 82.7h0.8M133.6 77.3h0.8M130.0 83.8h0.8M133.5 76.7h0.8M131.1 87.6h0.8M129.6 90.4h0.8M133.3 94.3h0.8M131.9 79.8h0.8M132.1 80.9h0.8M132.9 75.5h0.8M135.0 75.4h0.8M132.0 83.3h0.8M132.3 77.4h0.8M133.7 77.8h0.8M131.0 79.3h0.8M132.1 90.2h0.8M131.0 85.7h0.8M131.9 77.8h0.8M132.4 81.6h0.8M133.9 90.6h0.8M131.6 87.9h0.8M134.3 84.9h0.8M131.5 85.3h0.8M132.7 82.1h0.8M132.4 84.0h0.8" stroke="#a9b0ee" stroke-width="0.80" stroke-opacity="0.5" fill="none" stroke-linecap="butt"/>
<g filter="url(#b1)">
<path d="M131.5 40.1C132.6 39.2 134.6 38.4 136.2 38.3C137.8 38.2 139.7 38.6 140.8 39.5C141.9 40.4 142.5 41.7 142.7 43.5C142.9 45.3 142.6 48.0 142.1 50.5C141.6 53.0 140.6 56.0 139.8 58.5C139.0 61.0 138.3 63.2 137.5 65.5C136.7 67.8 135.9 70.5 135.2 72.5C134.4 74.5 133.7 77.3 133.0 77.5C132.3 77.7 131.6 75.6 131.0 73.8C130.4 72.0 130.0 69.3 129.6 66.6C129.2 63.9 128.9 60.3 128.8 57.4C128.7 54.5 128.7 51.6 128.8 49.3C128.9 47.0 129.2 45.0 129.6 43.5C130.0 42.0 130.4 41.0 131.5 40.1Z" fill="#4d63de" />
<path d="M133.5 83.2h0.8M132.0 82.4h0.8M134.7 73.9h0.8M134.8 72.2h0.8M133.0 80.7h0.8M134.3 79.4h0.8M132.3 74.4h0.8M130.8 81.3h0.8M132.6 74.8h0.8M133.5 74.6h0.8M132.2 75.9h0.8M134.1 84.7h0.8M133.0 70.9h0.8M132.9 78.3h0.8M132.8 80.6h0.8M131.9 82.1h0.8M133.5 79.0h0.8M132.3 75.8h0.8M133.8 73.1h0.8M132.7 74.6h0.8M130.7 80.6h0.8M132.6 78.2h0.8M134.2 71.4h0.8M132.4 79.3h0.8M134.0 73.2h0.8M133.4 79.1h0.8M133.8 83.2h0.8M132.5 87.7h0.8M132.8 76.1h0.8M132.5 73.7h0.8M133.2 69.6h0.8M132.3 79.9h0.8M133.9 76.5h0.8M134.5 75.2h0.8M133.1 69.6h0.8M132.0 74.4h0.8M134.2 80.5h0.8M131.1 80.2h0.8M133.2 77.0h0.8M132.7 76.7h0.8M132.6 70.2h0.8M132.0 83.6h0.8M134.4 76.9h0.8M131.8 77.0h0.8M133.5 79.6h0.8M131.8 79.5h0.8M132.2 80.2h0.8M132.6 71.5h0.8M132.4 81.3h0.8M131.3 77.4h0.8M133.8 76.4h0.8M131.1 86.8h0.8M133.2 82.6h0.8M130.9 85.0h0.8M130.9 75.6h0.8M133.0 83.9h0.8M131.7 75.0h0.8M133.5 69.6h0.8M133.1 80.5h0.8M131.9 80.3h0.8M133.4 79.4h0.8M132.7 84.6h0.8M132.0 78.7h0.8M131.6 82.5h0.8M132.0 80.0h0.8M132.7 78.3h0.8M134.6 77.8h0.8M134.0 81.7h0.8M134.2 77.4h0.8M133.4 81.4h0.8M131.8 79.1h0.8M132.5 77.8h0.8M134.4 75.0h0.8M131.3 70.3h0.8M132.3 75.2h0.8M132.4 80.5h0.8M134.5 79.5h0.8M133.4 74.9h0.8M132.8 83.9h0.8M134.8 69.7h0.8M133.1 84.9h0.8M134.1 71.6h0.8M132.0 80.5h0.8M133.4 74.5h0.8M131.2 82.1h0.8M130.6 84.1h0.8M132.5 79.3h0.8M131.3 75.3h0.8M133.9 71.7h0.8M135.5 72.1h0.8" stroke="#4a60d8" stroke-width="0.80" stroke-opacity="0.7" fill="none" stroke-linecap="butt"/>
<path d="M131.2 42.7C132.3 41.6 134.7 40.9 136.3 40.9C137.9 40.9 139.9 41.4 140.6 42.7C141.4 44.1 141.3 46.5 141.0 49.0C140.6 51.5 139.6 55.0 138.8 57.7C138.0 60.4 137.2 63.3 136.3 65.2C135.4 67.0 134.1 69.1 133.2 69.0C132.2 68.8 131.3 66.3 130.7 64.0C130.1 61.7 129.9 57.9 129.8 55.2C129.7 52.5 129.8 49.9 130.0 47.8C130.3 45.7 130.2 43.9 131.2 42.7Z" fill="#2fa8e6" />
<path d="M132.0 45.2C132.8 44.2 134.4 43.6 135.6 43.6C136.8 43.6 138.6 43.9 139.3 45.0C140.0 46.1 139.9 48.4 139.6 50.5C139.3 52.6 138.3 55.4 137.5 57.4C136.7 59.4 135.5 61.9 134.6 62.6C133.7 63.3 132.7 62.6 132.1 61.4C131.5 60.1 131.1 57.1 130.9 55.1C130.7 53.1 130.9 50.9 131.1 49.3C131.3 47.6 131.2 46.2 132.0 45.2Z" fill="#3fdc8c" />
<path d="M132.8 47.0C133.3 46.3 134.7 45.8 135.5 45.7C136.4 45.7 137.6 46.0 138.0 46.9C138.4 47.7 138.4 49.4 138.1 50.9C137.8 52.4 137.1 54.6 136.4 56.1C135.8 57.5 135.0 59.0 134.4 59.4C133.8 59.7 133.3 59.1 132.9 58.3C132.5 57.4 132.1 55.8 132.0 54.4C131.9 53.0 132.1 51.2 132.2 50.0C132.3 48.8 132.2 47.7 132.8 47.0Z" fill="#5ae04a" />
</g>
<g filter="url(#b2)">
<ellipse cx="134.9" cy="51.8" rx="2.2" ry="4.6" fill="#d4e224" transform="rotate(12 134.9 51.8)"/>
<ellipse cx="134.5" cy="51" rx="1.4" ry="2.7" fill="#f2701c" transform="rotate(12 134.5 51)"/>
</g>
<g filter="url(#b1)"><ellipse cx="156.2" cy="56.2" rx="14" ry="4.4" fill="#93a2ec" transform="rotate(-42 156.2 56.2)"/><ellipse cx="156.2" cy="56.2" rx="10.5" ry="2.6" fill="#5a74de" transform="rotate(-42 156.2 56.2)"/><ellipse cx="156.8" cy="55.6" rx="6" ry="1.3" fill="#3f62d8" transform="rotate(-42 156.8 55.6)"/></g>
<path d="M148.6 63.3h0.8M160.1 55.1h0.8M153.4 58.2h0.8M153.7 56.8h0.8M141.8 72.2h0.8M157.8 55.4h0.8M152.6 60.4h0.8M155.8 56.4h0.8M160.1 47.5h0.8M155.9 53.3h0.8M156.4 60.8h0.8M149.3 62.3h0.8M153.9 61.4h0.8M147.5 59.0h0.8M158.6 53.1h0.8M155.7 60.1h0.8M150.0 60.7h0.8M157.5 56.4h0.8M154.5 61.1h0.8M169.0 43.6h0.8M164.1 42.7h0.8M164.0 48.2h0.8M156.3 55.2h0.8M150.2 57.8h0.8M155.6 60.9h0.8M162.4 49.7h0.8M151.7 58.2h0.8M151.5 66.1h0.8M160.2 53.1h0.8M151.4 57.4h0.8M165.2 50.6h0.8M151.7 63.4h0.8M150.3 63.6h0.8M149.5 61.0h0.8M159.7 54.5h0.8M160.8 49.5h0.8M167.6 50.2h0.8M156.7 57.4h0.8M151.0 60.5h0.8M148.1 63.9h0.8M159.3 57.7h0.8M163.0 52.7h0.8M153.5 58.1h0.8M154.3 58.7h0.8M145.5 68.4h0.8M145.7 64.2h0.8M155.3 55.5h0.8M165.9 47.3h0.8M167.3 49.9h0.8M153.6 59.9h0.8M163.4 48.8h0.8M155.7 55.1h0.8M155.8 55.6h0.8M158.0 57.8h0.8M164.7 49.1h0.8M158.5 56.9h0.8M152.6 56.3h0.8M161.3 48.8h0.8M160.2 49.8h0.8M165.5 44.7h0.8M163.5 54.4h0.8M152.5 64.3h0.8M148.3 58.0h0.8M161.5 53.8h0.8M150.9 53.3h0.8M155.2 56.3h0.8M153.3 58.1h0.8M144.3 65.3h0.8M169.3 49.3h0.8M152.7 57.3h0.8M160.0 56.2h0.8M158.6 50.5h0.8M157.2 55.9h0.8M166.6 50.7h0.8M161.1 55.7h0.8M156.0 61.3h0.8M154.0 59.5h0.8M160.2 49.9h0.8M149.0 57.3h0.8M156.9 55.5h0.8M154.8 59.1h0.8M143.1 68.0h0.8M156.1 55.6h0.8M163.5 55.2h0.8M151.8 57.3h0.8M152.5 60.0h0.8M158.2 51.8h0.8M160.5 49.3h0.8M161.7 52.7h0.8M162.1 57.7h0.8M154.1 57.7h0.8M160.2 55.4h0.8M148.3 64.3h0.8M152.5 61.6h0.8M164.4 49.1h0.8M155.6 57.4h0.8M139.3 74.0h0.8M159.7 53.7h0.8M152.5 57.4h0.8M156.8 59.6h0.8M157.5 59.4h0.8M139.7 69.8h0.8M157.6 55.0h0.8M144.9 64.4h0.8M161.6 47.5h0.8M148.3 60.0h0.8M153.6 60.6h0.8M156.5 49.8h0.8M163.9 47.5h0.8M155.0 62.6h0.8M153.6 54.8h0.8M151.0 58.7h0.8M149.4 61.4h0.8M161.9 52.3h0.8M151.9 68.8h0.8M150.2 62.1h0.8M157.4 57.6h0.8M154.7 59.1h0.8M168.9 45.2h0.8M149.9 63.0h0.8M150.6 60.3h0.8M157.7 56.0h0.8M155.6 59.5h0.8M152.8 55.3h0.8M160.8 51.1h0.8M162.3 48.8h0.8M160.0 53.9h0.8M137.3 68.7h0.8M151.4 65.0h0.8M146.0 68.4h0.8M163.4 51.4h0.8M159.3 52.0h0.8M156.3 56.9h0.8M159.6 55.4h0.8M153.7 56.4h0.8M153.2 60.3h0.8M144.0 63.4h0.8M152.6 57.8h0.8M150.3 53.4h0.8M153.5 57.9h0.8M157.7 48.9h0.8M154.9 59.0h0.8M160.8 55.9h0.8M160.8 48.9h0.8M159.3 52.4h0.8M153.5 63.5h0.8M150.9 58.5h0.8M152.2 57.3h0.8M162.7 51.6h0.8M165.1 49.5h0.8M153.9 61.7h0.8M151.3 59.3h0.8M155.0 57.5h0.8M162.3 48.9h0.8M158.1 54.5h0.8M146.7 61.5h0.8M155.3 58.4h0.8M158.7 55.6h0.8M155.6 55.5h0.8M157.0 52.4h0.8M147.3 63.3h0.8M146.5 63.4h0.8M150.6 59.6h0.8M154.5 55.4h0.8M150.8 55.9h0.8M155.5 54.2h0.8M154.1 49.4h0.8M151.5 61.3h0.8M140.6 69.3h0.8M156.7 56.2h0.8M147.2 65.1h0.8M155.4 54.0h0.8M160.5 52.3h0.8M155.4 55.6h0.8M159.5 53.7h0.8M163.6 51.0h0.8M151.9 59.5h0.8M161.0 50.8h0.8M159.1 55.3h0.8M151.3 53.5h0.8M157.1 56.1h0.8M155.6 54.4h0.8M163.2 49.6h0.8M151.1 58.7h0.8M156.5 52.6h0.8M153.0 65.5h0.8M165.6 51.1h0.8M165.3 50.0h0.8M147.6 67.8h0.8M164.3 50.5h0.8M146.0 69.4h0.8M163.6 48.1h0.8M158.0 57.1h0.8M157.2 58.9h0.8M157.6 57.2h0.8M154.2 53.5h0.8M154.8 67.5h0.8M159.7 57.2h0.8M165.6 53.2h0.8M158.5 52.4h0.8" stroke="#4660d4" stroke-width="0.80" stroke-opacity="0.6" fill="none" stroke-linecap="butt"/>
<path d="M149.5 47.1h0.9M157.8 59.8h0.9M142.2 67.9h0.9M166.1 55.8h0.9M147.6 57.5h0.9M140.0 61.4h0.9M166.7 60.5h0.9M153.1 67.1h0.9M157.2 50.6h0.9M162.0 32.4h0.9M156.3 56.3h0.9M176.4 50.4h0.9M171.6 42.8h0.9M167.3 55.1h0.9M160.7 53.6h0.9M153.4 54.4h0.9M154.5 69.9h0.9M145.9 49.0h0.9M157.7 53.4h0.9M163.4 61.4h0.9M154.4 54.5h0.9M150.9 59.1h0.9M153.8 58.3h0.9M178.3 39.0h0.9M156.9 67.7h0.9M164.6 53.5h0.9M163.6 54.3h0.9M165.4 57.0h0.9M167.4 54.9h0.9M152.6 57.8h0.9M154.4 63.0h0.9M160.0 48.4h0.9M169.0 62.5h0.9M160.5 43.5h0.9M157.6 58.1h0.9M157.1 56.8h0.9M165.0 49.7h0.9M151.1 64.1h0.9M155.7 56.0h0.9M147.4 52.5h0.9M146.4 60.6h0.9M139.5 49.9h0.9M159.7 43.8h0.9M153.0 61.3h0.9M144.4 74.1h0.9M153.1 62.0h0.9M153.8 59.0h0.9M156.7 54.4h0.9M138.7 59.3h0.9M160.6 61.0h0.9M154.2 60.3h0.9M158.8 56.1h0.9M157.5 43.3h0.9M157.2 52.7h0.9M151.0 53.3h0.9M147.2 55.2h0.9M157.3 71.5h0.9M167.5 45.5h0.9M157.6 46.8h0.9M131.0 63.2h0.9M161.9 60.1h0.9M152.3 51.1h0.9M150.9 52.3h0.9M145.8 61.9h0.9M150.5 53.9h0.9M146.8 56.2h0.9M162.4 59.4h0.9M162.3 65.4h0.9M146.1 65.2h0.9M147.7 60.9h0.9M158.6 56.7h0.9M161.7 46.4h0.9M147.0 61.2h0.9M155.6 50.5h0.9M167.8 56.9h0.9M147.7 64.5h0.9M156.2 41.4h0.9M156.6 52.9h0.9M151.0 68.4h0.9M155.8 51.8h0.9M161.2 55.1h0.9M163.2 53.0h0.9M154.7 47.9h0.9M153.6 57.9h0.9M144.7 79.4h0.9M149.8 52.8h0.9M144.6 66.3h0.9M154.2 52.4h0.9M150.1 53.7h0.9M150.6 58.8h0.9M154.0 61.4h0.9M155.5 56.3h0.9M163.1 57.9h0.9M160.8 52.5h0.9M152.1 52.6h0.9M156.1 59.7h0.9M156.2 52.1h0.9M141.8 56.2h0.9M161.7 57.4h0.9M153.8 47.3h0.9M155.3 57.1h0.9M151.0 61.6h0.9M151.8 52.7h0.9M150.5 65.3h0.9M155.3 49.3h0.9M152.3 64.4h0.9M159.0 50.4h0.9M165.7 44.8h0.9M152.7 65.4h0.9M155.9 57.5h0.9M152.8 50.7h0.9M147.4 60.9h0.9M162.0 43.0h0.9M165.9 48.2h0.9M149.5 62.4h0.9M156.7 48.1h0.9M142.9 68.5h0.9M150.1 63.1h0.9M142.7 65.2h0.9M145.5 53.5h0.9M155.0 57.1h0.9M148.2 53.3h0.9M151.4 46.6h0.9M161.3 54.0h0.9M170.3 49.2h0.9M159.3 54.1h0.9M151.6 49.4h0.9M167.6 48.9h0.9M150.1 51.9h0.9M167.8 48.8h0.9M150.4 64.4h0.9M168.6 44.2h0.9M157.3 51.0h0.9M155.5 62.9h0.9M177.0 38.2h0.9M157.9 58.9h0.9M156.5 59.7h0.9M158.1 46.2h0.9M148.6 60.7h0.9M162.5 51.5h0.9M159.6 42.4h0.9M157.2 49.7h0.9M157.8 55.8h0.9M148.7 59.5h0.9M149.1 62.6h0.9M148.6 57.8h0.9M155.2 51.1h0.9M161.5 45.9h0.9M162.7 51.4h0.9M148.3 59.9h0.9M149.2 58.2h0.9M160.4 64.0h0.9M158.6 63.8h0.9M154.5 47.2h0.9M142.9 70.7h0.9M145.2 69.1h0.9M164.2 50.8h0.9M153.7 55.2h0.9M156.7 52.3h0.9M151.2 56.5h0.9M161.7 45.9h0.9M154.6 48.2h0.9M146.5 53.4h0.9M157.0 58.9h0.9M156.4 51.3h0.9M158.9 50.2h0.9M159.4 54.0h0.9M151.1 41.9h0.9M150.0 65.5h0.9M163.0 64.7h0.9M152.5 54.1h0.9M167.9 48.9h0.9M170.4 46.5h0.9M157.1 59.1h0.9M149.2 57.6h0.9M151.5 57.2h0.9M159.5 48.7h0.9M156.4 51.2h0.9M152.5 38.8h0.9M155.2 56.8h0.9M152.3 65.2h0.9M161.8 59.0h0.9M164.6 52.2h0.9M151.3 51.4h0.9M153.0 54.4h0.9M156.1 51.7h0.9M170.9 31.4h0.9M162.2 46.5h0.9M157.5 60.1h0.9M151.9 50.0h0.9M158.1 51.9h0.9M143.0 67.3h0.9M146.4 57.9h0.9M160.2 53.5h0.9M161.5 65.5h0.9M156.7 50.2h0.9M157.2 53.2h0.9M135.9 60.9h0.9M153.8 71.2h0.9M153.8 54.9h0.9" stroke="#9aa4ea" stroke-width="0.90" stroke-opacity="0.6" fill="none" stroke-linecap="butt"/>
<path d="M139.8 60.3h0.9M140.6 66.8h0.9M142.5 66.4h0.9M141.4 55.2h0.9M141.1 50.4h0.9M138.4 46.6h0.9M140.3 46.1h0.9M144.7 54.6h0.9M144.2 59.7h0.9M143.3 60.9h0.9M139.9 58.8h0.9M141.7 47.3h0.9M143.0 71.0h0.9M138.1 66.8h0.9M144.7 44.9h0.9M142.3 55.3h0.9M143.2 49.0h0.9M138.9 52.0h0.9M143.4 59.0h0.9M142.6 61.7h0.9M139.7 51.4h0.9M142.0 60.7h0.9M141.9 56.5h0.9M140.5 70.1h0.9M136.8 51.3h0.9M147.7 54.6h0.9M137.5 52.7h0.9M139.2 45.8h0.9M141.1 66.8h0.9M142.5 57.9h0.9M144.3 54.0h0.9M140.0 50.9h0.9M143.0 49.7h0.9M140.7 48.7h0.9M139.3 42.8h0.9M142.1 48.9h0.9M140.9 64.1h0.9M142.7 51.8h0.9M140.1 42.4h0.9M143.7 44.6h0.9M144.0 42.8h0.9M142.4 51.4h0.9M144.7 48.9h0.9M140.9 54.0h0.9M140.7 66.6h0.9M141.8 47.3h0.9M140.8 56.0h0.9M142.0 58.0h0.9M136.5 73.0h0.9M146.4 52.2h0.9M139.0 53.0h0.9M144.9 32.9h0.9M143.3 39.3h0.9M141.9 64.0h0.9M145.8 39.3h0.9M144.5 60.1h0.9M140.7 56.2h0.9M145.9 49.5h0.9M142.4 47.2h0.9M146.6 33.7h0.9M146.2 44.0h0.9M145.6 38.2h0.9M140.3 46.6h0.9M145.4 38.2h0.9M144.0 46.7h0.9M145.2 49.6h0.9M143.3 50.6h0.9M146.6 49.3h0.9M140.2 69.1h0.9M141.6 57.9h0.9M140.1 53.5h0.9M136.5 52.4h0.9M141.8 38.9h0.9M137.6 61.5h0.9M144.3 39.0h0.9M146.9 46.4h0.9M140.9 54.0h0.9M140.7 37.8h0.9M139.2 62.0h0.9M145.6 38.6h0.9M144.9 52.6h0.9M143.2 52.6h0.9M143.9 43.5h0.9M140.4 45.7h0.9M140.6 57.2h0.9M137.7 65.4h0.9M141.0 46.8h0.9M143.3 55.9h0.9M142.1 42.7h0.9M141.0 38.0h0.9M143.8 61.6h0.9M146.0 56.7h0.9M142.1 58.6h0.9M144.5 50.0h0.9M141.0 70.6h0.9M139.2 39.5h0.9M139.0 58.3h0.9M145.1 49.4h0.9M143.6 51.7h0.9M143.2 47.4h0.9M141.9 52.0h0.9M142.8 71.5h0.9M137.2 56.2h0.9M141.2 60.3h0.9M143.9 59.0h0.9M144.8 44.0h0.9M136.5 66.0h0.9M145.7 44.1h0.9M144.5 58.1h0.9M135.3 59.2h0.9M138.6 61.8h0.9M141.0 45.4h0.9M138.5 49.8h0.9M145.0 46.5h0.9M135.7 70.0h0.9M145.8 58.4h0.9M141.8 41.4h0.9M137.6 56.4h0.9M146.0 43.2h0.9M142.2 49.6h0.9" stroke="#8d97ea" stroke-width="0.90" stroke-opacity="0.6" fill="none" stroke-linecap="butt"/>
<path d="M128.4 60.3h0.9M132.3 50.6h0.9M129.8 65.5h0.9M128.7 54.7h0.9M126.6 65.2h0.9M128.5 50.3h0.9M129.5 48.6h0.9M127.6 53.3h0.9M131.2 54.3h0.9M130.4 43.3h0.9M125.4 71.6h0.9M129.1 42.6h0.9M128.6 61.3h0.9M126.9 48.2h0.9M129.8 48.0h0.9M129.7 64.4h0.9M129.8 52.3h0.9M129.2 50.5h0.9M128.7 58.7h0.9M128.1 64.4h0.9M133.0 51.4h0.9M129.1 63.2h0.9M130.0 54.0h0.9M127.9 64.7h0.9M129.7 60.4h0.9M127.6 61.4h0.9M130.2 54.5h0.9M129.0 74.9h0.9M126.0 61.1h0.9M127.9 44.1h0.9M128.4 60.7h0.9M129.6 45.9h0.9M127.2 51.1h0.9M129.4 48.8h0.9M126.1 71.1h0.9M127.9 54.6h0.9M128.5 50.9h0.9M129.2 53.4h0.9M130.4 45.7h0.9M126.0 72.8h0.9M128.6 62.7h0.9M130.5 60.9h0.9M129.7 42.5h0.9M126.3 64.4h0.9M129.7 61.0h0.9M127.5 37.3h0.9M128.0 45.6h0.9M129.7 47.1h0.9M131.6 50.7h0.9M127.8 63.5h0.9M129.9 48.2h0.9M129.4 72.8h0.9M127.3 53.7h0.9M128.3 39.0h0.9M129.6 62.1h0.9M130.2 59.8h0.9M126.1 55.6h0.9M128.5 45.7h0.9M127.1 62.6h0.9M127.7 73.1h0.9" stroke="#9aa4ea" stroke-width="0.90" stroke-opacity="0.55" fill="none" stroke-linecap="butt"/>
<path d="M146.8 66.3h0.8M148.5 72.4h0.8M145.1 67.6h0.8M151.9 67.4h0.8M144.7 66.3h0.8M140.1 66.7h0.8M149.2 72.3h0.8M143.4 67.4h0.8M144.8 70.7h0.8M139.1 67.7h0.8M144.6 71.4h0.8M145.3 70.9h0.8M140.1 65.1h0.8M146.2 68.2h0.8M144.5 69.3h0.8M146.9 68.5h0.8M150.6 70.1h0.8M147.1 71.2h0.8M149.0 70.8h0.8M138.2 68.8h0.8M152.3 70.9h0.8M147.2 70.9h0.8M142.5 68.7h0.8M142.5 72.3h0.8M146.4 73.5h0.8" stroke="#8d97ea" stroke-width="0.80" stroke-opacity="0.6" fill="none" stroke-linecap="butt"/>
<rect x="143.60" y="39.20" width="28.30" height="29.20" fill="none" stroke="#606060" stroke-width="0.8" />
<text x="157.90" y="80.80" font-size="7.3" text-anchor="middle" font-weight="normal" fill="#3a3a3a" stroke="#3a3a3a" stroke-width="0.1" >14.9</text>
<text transform="translate(19.20 99.40) rotate(-90)" font-size="11.5" text-anchor="middle" fill="#111" stroke="#111" stroke-width="0.25" >CD44</text>
<line x1="13.20" y1="76.50" x2="13.20" y2="40.00" stroke="#111" stroke-width="1" />
<path d="M13.2 34.2 L10.3 41.2 L16.1 41.2 Z" fill="#111"/>
<text x="29.80" y="129.00" font-size="11.5" text-anchor="start" font-weight="normal" fill="#111" stroke="#111" stroke-width="0.25" >CD8</text>
<line x1="64.00" y1="125.40" x2="171.00" y2="125.40" stroke="#111" stroke-width="1" />
<path d="M177.2 125.4 L170.2 122.5 L170.2 128.3 Z" fill="#111"/>
<line x1="269.50" y1="96.50" x2="269.50" y2="96.50" stroke="#333" stroke-width="1" />
<line x1="267.00" y1="96.50" x2="272.00" y2="96.50" stroke="#333" stroke-width="1" />
<rect x="262.50" y="96.50" width="13.00" height="13.00" fill="white" stroke="#1a1a1a" stroke-width="1" />
<line x1="299.50" y1="36.50" x2="299.50" y2="42.00" stroke="#333" stroke-width="1" />
<line x1="297.00" y1="36.50" x2="302.00" y2="36.50" stroke="#333" stroke-width="1" />
<rect x="293.00" y="42.00" width="13.00" height="67.50" fill="#000" stroke="none" stroke-width="0" />
<line x1="253.50" y1="18.30" x2="253.50" y2="110.00" stroke="#333" stroke-width="1" />
<line x1="250.50" y1="109.50" x2="315.00" y2="109.50" stroke="#333" stroke-width="1" />
<line x1="250.30" y1="18.50" x2="253.50" y2="18.50" stroke="#333" stroke-width="1" />
<text x="248.60" y="22.99" font-size="10.8" text-anchor="end" font-weight="normal" fill="#111" stroke="#111" stroke-width="0.25" >25</text>
<line x1="250.30" y1="37.50" x2="253.50" y2="37.50" stroke="#333" stroke-width="1" />
<text x="248.60" y="41.19" font-size="10.8" text-anchor="end" font-weight="normal" fill="#111" stroke="#111" stroke-width="0.25" >20</text>
<line x1="250.30" y1="55.50" x2="253.50" y2="55.50" stroke="#333" stroke-width="1" />
<text x="248.60" y="59.29" font-size="10.8" text-anchor="end" font-weight="normal" fill="#111" stroke="#111" stroke-width="0.25" >15</text>
<line x1="250.30" y1="73.50" x2="253.50" y2="73.50" stroke="#333" stroke-width="1" />
<text x="248.60" y="77.39" font-size="10.8" text-anchor="end" font-weight="normal" fill="#111" stroke="#111" stroke-width="0.25" >10</text>
<line x1="250.30" y1="91.50" x2="253.50" y2="91.50" stroke="#333" stroke-width="1" />
<text x="248.60" y="95.59" font-size="10.8" text-anchor="end" font-weight="normal" fill="#111" stroke="#111" stroke-width="0.25" >5</text>
<line x1="250.30" y1="109.50" x2="253.50" y2="109.50" stroke="#333" stroke-width="1" />
<text x="248.60" y="113.69" font-size="10.8" text-anchor="end" font-weight="normal" fill="#111" stroke="#111" stroke-width="0.25" >0</text>
<line x1="266.30" y1="29.50" x2="304.50" y2="29.50" stroke="#777" stroke-width="1" />
<text x="285.80" y="27.00" font-size="10" text-anchor="middle" font-weight="bold" fill="#111" stroke="#111" stroke-width="0.25" >*</text>
<text x="268.60" y="127.00" font-size="10.8" text-anchor="middle" font-weight="normal" fill="#111" stroke="#111" stroke-width="0.25" >WT</text>
<text x="299.40" y="127.00" font-size="10.8" text-anchor="middle" font-weight="normal" fill="#111" stroke="#111" stroke-width="0.25" >KO</text>
<text transform="translate(228.10 68.20) rotate(-90)" font-size="11.5" text-anchor="middle" fill="#111" stroke="#111" stroke-width="0.25" >% CD44<tspan font-size="6.5" dy="-3.8">+</tspan><tspan dy="3.8" font-size="1">&#8203;</tspan>CD8<tspan font-size="6.5" dy="-3.8">+</tspan><tspan dy="3.8" font-size="1">&#8203;</tspan> T cells</text>
<line x1="412.50" y1="90.50" x2="412.50" y2="94.50" stroke="#333" stroke-width="1" />
<line x1="410.00" y1="90.50" x2="415.00" y2="90.50" stroke="#333" stroke-width="1" />
<rect x="405.50" y="94.50" width="13.00" height="15.00" fill="white" stroke="#1a1a1a" stroke-width="1" />
<line x1="444.50" y1="33.50" x2="444.50" y2="45.80" stroke="#333" stroke-width="1" />
<line x1="442.00" y1="33.50" x2="447.00" y2="33.50" stroke="#333" stroke-width="1" />
<rect x="438.00" y="45.80" width="13.00" height="63.70" fill="#000" stroke="none" stroke-width="0" />
<line x1="395.50" y1="18.30" x2="395.50" y2="110.00" stroke="#333" stroke-width="1" />
<line x1="392.50" y1="109.50" x2="461.30" y2="109.50" stroke="#333" stroke-width="1" />
<line x1="392.30" y1="18.50" x2="395.50" y2="18.50" stroke="#333" stroke-width="1" />
<text x="388.20" y="22.99" font-size="10.8" text-anchor="end" font-weight="normal" fill="#111" stroke="#111" stroke-width="0.25" >50,000</text>
<line x1="392.30" y1="37.50" x2="395.50" y2="37.50" stroke="#333" stroke-width="1" />
<text x="388.20" y="41.19" font-size="10.8" text-anchor="end" font-weight="normal" fill="#111" stroke="#111" stroke-width="0.25" >40,000</text>
<line x1="392.30" y1="55.50" x2="395.50" y2="55.50" stroke="#333" stroke-width="1" />
<text x="388.20" y="59.29" font-size="10.8" text-anchor="end" font-weight="normal" fill="#111" stroke="#111" stroke-width="0.25" >30,000</text>
<line x1="392.30" y1="73.50" x2="395.50" y2="73.50" stroke="#333" stroke-width="1" />
<text x="388.20" y="77.39" font-size="10.8" text-anchor="end" font-weight="normal" fill="#111" stroke="#111" stroke-width="0.25" >20,000</text>
<line x1="392.30" y1="91.50" x2="395.50" y2="91.50" stroke="#333" stroke-width="1" />
<text x="388.20" y="95.59" font-size="10.8" text-anchor="end" font-weight="normal" fill="#111" stroke="#111" stroke-width="0.25" >10,000</text>
<line x1="392.30" y1="109.50" x2="395.50" y2="109.50" stroke="#333" stroke-width="1" />
<text x="388.20" y="113.69" font-size="10.8" text-anchor="end" font-weight="normal" fill="#111" stroke="#111" stroke-width="0.25" >0</text>
<line x1="409.50" y1="27.50" x2="448.00" y2="27.50" stroke="#777" stroke-width="1" />
<text x="428.00" y="23.80" font-size="10" text-anchor="middle" font-weight="bold" fill="#111" stroke="#111" stroke-width="0.25" >*</text>
<text x="411.20" y="127.00" font-size="10.8" text-anchor="middle" font-weight="normal" fill="#111" stroke="#111" stroke-width="0.25" >WT</text>
<text x="444.80" y="127.00" font-size="10.8" text-anchor="middle" font-weight="normal" fill="#111" stroke="#111" stroke-width="0.25" >KO</text>
<text transform="translate(347.70 68.00) rotate(-90)" font-size="11.5" text-anchor="middle" fill="#111" stroke="#111" stroke-width="0.25" ># CD44<tspan font-size="6.5" dy="-3.8">+</tspan><tspan dy="3.8" font-size="1">&#8203;</tspan>CD8<tspan font-size="6.5" dy="-3.8">+</tspan><tspan dy="3.8" font-size="1">&#8203;</tspan>&#160; T cells</text>
<text x="0.80" y="159.30" font-size="16.5" text-anchor="start" font-weight="bold" fill="#000" stroke="#000" stroke-width="0.25" >B</text>
<text x="93.40" y="154.10" font-size="11.6" text-anchor="middle" font-weight="normal" fill="#111" stroke="#111" stroke-width="0.25" >CD8<tspan font-size="6.5" dy="-3.8">+</tspan><tspan dy="3.8" font-size="1">&#8203;</tspan> gated</text>
<path d="M53.5 163.5H134.2V244.6" fill="none" stroke="#7c7c7c" stroke-width="0.9"/>
<line x1="53.50" y1="163.00" x2="53.50" y2="244.60" stroke="#b0b0b0" stroke-width="0.7" />
<line x1="53.50" y1="244.00" x2="134.20" y2="244.00" stroke="#b0b0b0" stroke-width="0.7" />
<line x1="52.50" y1="166.00" x2="53.80" y2="166.00" stroke="#777" stroke-width="0.6" />
<line x1="52.50" y1="169.50" x2="53.80" y2="169.50" stroke="#777" stroke-width="0.6" />
<line x1="52.50" y1="173.00" x2="53.80" y2="173.00" stroke="#777" stroke-width="0.6" />
<line x1="52.50" y1="176.50" x2="53.80" y2="176.50" stroke="#777" stroke-width="0.6" />
<line x1="52.50" y1="180.00" x2="53.80" y2="180.00" stroke="#777" stroke-width="0.6" />
<line x1="52.50" y1="183.50" x2="53.80" y2="183.50" stroke="#777" stroke-width="0.6" />
<line x1="52.50" y1="187.00" x2="53.80" y2="187.00" stroke="#777" stroke-width="0.6" />
<line x1="52.50" y1="190.50" x2="53.80" y2="190.50" stroke="#777" stroke-width="0.6" />
<line x1="52.50" y1="194.00" x2="53.80" y2="194.00" stroke="#777" stroke-width="0.6" />
<line x1="52.50" y1="197.50" x2="53.80" y2="197.50" stroke="#777" stroke-width="0.6" />
<line x1="52.50" y1="201.00" x2="53.80" y2="201.00" stroke="#777" stroke-width="0.6" />
<line x1="52.50" y1="204.50" x2="53.80" y2="204.50" stroke="#777" stroke-width="0.6" />
<line x1="52.50" y1="208.00" x2="53.80" y2="208.00" stroke="#777" stroke-width="0.6" />
<line x1="52.50" y1="211.50" x2="53.80" y2="211.50" stroke="#777" stroke-width="0.6" />
<line x1="52.50" y1="215.00" x2="53.80" y2="215.00" stroke="#777" stroke-width="0.6" />
<line x1="52.50" y1="218.50" x2="53.80" y2="218.50" stroke="#777" stroke-width="0.6" />
<line x1="52.50" y1="222.00" x2="53.80" y2="222.00" stroke="#777" stroke-width="0.6" />
<line x1="52.50" y1="225.50" x2="53.80" y2="225.50" stroke="#777" stroke-width="0.6" />
<line x1="52.50" y1="229.00" x2="53.80" y2="229.00" stroke="#777" stroke-width="0.6" />
<line x1="52.50" y1="232.50" x2="53.80" y2="232.50" stroke="#777" stroke-width="0.6" />
<line x1="52.50" y1="236.00" x2="53.80" y2="236.00" stroke="#777" stroke-width="0.6" />
<line x1="52.50" y1="239.50" x2="53.80" y2="239.50" stroke="#777" stroke-width="0.6" />
<line x1="52.50" y1="243.00" x2="53.80" y2="243.00" stroke="#777" stroke-width="0.6" />
<line x1="51.50" y1="172.00" x2="53.80" y2="172.00" stroke="#333" stroke-width="1" />
<line x1="51.50" y1="194.00" x2="53.80" y2="194.00" stroke="#333" stroke-width="1" />
<line x1="51.50" y1="216.00" x2="53.80" y2="216.00" stroke="#333" stroke-width="1" />
<line x1="51.50" y1="237.00" x2="53.80" y2="237.00" stroke="#333" stroke-width="1" />
<line x1="56.50" y1="243.40" x2="56.50" y2="245.00" stroke="#777" stroke-width="0.6" />
<line x1="60.00" y1="243.40" x2="60.00" y2="245.00" stroke="#777" stroke-width="0.6" />
<line x1="63.50" y1="243.40" x2="63.50" y2="245.00" stroke="#777" stroke-width="0.6" />
<line x1="67.00" y1="243.40" x2="67.00" y2="245.00" stroke="#777" stroke-width="0.6" />
<line x1="70.50" y1="243.40" x2="70.50" y2="245.00" stroke="#777" stroke-width="0.6" />
<line x1="74.00" y1="243.40" x2="74.00" y2="245.00" stroke="#777" stroke-width="0.6" />
<line x1="77.50" y1="243.40" x2="77.50" y2="245.00" stroke="#777" stroke-width="0.6" />
<line x1="81.00" y1="243.40" x2="81.00" y2="245.00" stroke="#777" stroke-width="0.6" />
<line x1="84.50" y1="243.40" x2="84.50" y2="245.00" stroke="#777" stroke-width="0.6" />
<line x1="88.00" y1="243.40" x2="88.00" y2="245.00" stroke="#777" stroke-width="0.6" />
<line x1="91.50" y1="243.40" x2="91.50" y2="245.00" stroke="#777" stroke-width="0.6" />
<line x1="95.00" y1="243.40" x2="95.00" y2="245.00" stroke="#777" stroke-width="0.6" />
<line x1="98.50" y1="243.40" x2="98.50" y2="245.00" stroke="#777" stroke-width="0.6" />
<line x1="102.00" y1="243.40" x2="102.00" y2="245.00" stroke="#777" stroke-width="0.6" />
<line x1="105.50" y1="243.40" x2="105.50" y2="245.00" stroke="#777" stroke-width="0.6" />
<line x1="109.00" y1="243.40" x2="109.00" y2="245.00" stroke="#777" stroke-width="0.6" />
<line x1="112.50" y1="243.40" x2="112.50" y2="245.00" stroke="#777" stroke-width="0.6" />
<line x1="116.00" y1="243.40" x2="116.00" y2="245.00" stroke="#777" stroke-width="0.6" />
<line x1="119.50" y1="243.40" x2="119.50" y2="245.00" stroke="#777" stroke-width="0.6" />
<line x1="123.00" y1="243.40" x2="123.00" y2="245.00" stroke="#777" stroke-width="0.6" />
<line x1="126.50" y1="243.40" x2="126.50" y2="245.00" stroke="#777" stroke-width="0.6" />
<line x1="130.00" y1="243.40" x2="130.00" y2="245.00" stroke="#777" stroke-width="0.6" />
<line x1="133.50" y1="243.40" x2="133.50" y2="245.00" stroke="#777" stroke-width="0.6" />
<line x1="61.50" y1="243.40" x2="61.50" y2="245.80" stroke="#333" stroke-width="1" />
<line x1="85.50" y1="243.40" x2="85.50" y2="245.80" stroke="#333" stroke-width="1" />
<line x1="106.50" y1="243.40" x2="106.50" y2="245.80" stroke="#333" stroke-width="1" />
<line x1="125.50" y1="243.40" x2="125.50" y2="245.80" stroke="#333" stroke-width="1" />
<line x1="69.00" y1="244.80" x2="73.00" y2="244.80" stroke="#111" stroke-width="1.8" />
<line x1="52.60" y1="223.30" x2="52.60" y2="226.90" stroke="#111" stroke-width="1.8" />
<g filter="url(#b3)">
<ellipse cx="92" cy="217.6" rx="15" ry="5.4" fill="#f1f1f1" stroke="#a8a8a8" stroke-width="0.45" transform="rotate(-23 92 217.6)"/>
<ellipse cx="92" cy="217.6" rx="12.5" ry="3.6" fill="none" stroke="#b4b4b4" stroke-width="0.4" transform="rotate(-23 92 217.6)"/>
<ellipse cx="104.8" cy="212.3" rx="13.6" ry="10.3" fill="#e2e2e2" stroke="#a0a0a0" stroke-width="0.45" transform="rotate(-27 104.8 212.3)"/>
<ellipse cx="105.0" cy="212.3" rx="12.2" ry="9.0" fill="#c8c8c8" stroke="#949494" stroke-width="0.4" transform="rotate(-27 105.0 212.3)"/>
<ellipse cx="105.2" cy="212.3" rx="10.8" ry="7.7" fill="#afafaf" stroke="#8a8a8a" stroke-width="0.4" transform="rotate(-27 105.2 212.3)"/>
<ellipse cx="105.4" cy="212.3" rx="9.2" ry="6.4" fill="#9c9c9c" stroke="#828282" stroke-width="0.4" transform="rotate(-27 105.4 212.3)"/>
<ellipse cx="105.8" cy="212.5" rx="7.2" ry="4.9" fill="#929292" stroke="#7e7e7e" stroke-width="0.4" transform="rotate(-27 105.8 212.5)"/>
<ellipse cx="106.4" cy="212.9" rx="3.0" ry="2.0" fill="#b4b4b4" stroke="#909090" stroke-width="0.4" transform="rotate(-27 106.4 212.9)"/>
<ellipse cx="77.6" cy="223" rx="9.8" ry="7.0" fill="#a2a2a2" stroke="#7a7a7a" stroke-width="0.5" transform="rotate(-5 77.6 223)"/>
<ellipse cx="77.4" cy="223" rx="8.2" ry="5.7" fill="#808080" stroke="#666" stroke-width="0.5" transform="rotate(-5 77.4 223)"/>
<ellipse cx="77.2" cy="223.1" rx="6.6" ry="4.4" fill="#6a6a6a" stroke="#585858" stroke-width="0.5" transform="rotate(-5 77.2 223.1)"/>
<ellipse cx="77" cy="223.2" rx="4.9" ry="3.1" fill="#9a9a9a" stroke="#707070" stroke-width="0.4" transform="rotate(-5 77 223.2)"/>
<ellipse cx="76.8" cy="223.2" rx="3.4" ry="2.0" fill="#fafafa" stroke="#999" stroke-width="0.3" transform="rotate(-5 76.8 223.2)"/>
</g>
<line x1="87.50" y1="163.00" x2="87.50" y2="244.60" stroke="#2a2a2a" stroke-width="0.9" />
<line x1="53.50" y1="218.50" x2="134.20" y2="218.50" stroke="#2a2a2a" stroke-width="0.9" />
<text x="55.00" y="175.80" font-size="7.8" text-anchor="start" font-weight="normal" fill="#333" stroke="#333" stroke-width="0.1" >4.38</text>
<text x="125.40" y="175.80" font-size="7.8" text-anchor="end" font-weight="normal" fill="#333" stroke="#333" stroke-width="0.1" >47.4</text>
<text x="55.00" y="237.00" font-size="7.8" text-anchor="start" font-weight="normal" fill="#333" stroke="#333" stroke-width="0.1" >41.3</text>
<text x="125.40" y="237.00" font-size="7.8" text-anchor="end" font-weight="normal" fill="#333" stroke="#333" stroke-width="0.1" >6.86</text>
<path d="M53.5 250.3H134.2V330.2" fill="none" stroke="#7c7c7c" stroke-width="0.9"/>
<line x1="53.50" y1="249.80" x2="53.50" y2="330.20" stroke="#b0b0b0" stroke-width="0.7" />
<line x1="53.50" y1="329.60" x2="134.20" y2="329.60" stroke="#b0b0b0" stroke-width="0.7" />
<line x1="52.50" y1="252.80" x2="53.80" y2="252.80" stroke="#777" stroke-width="0.6" />
<line x1="52.50" y1="256.30" x2="53.80" y2="256.30" stroke="#777" stroke-width="0.6" />
<line x1="52.50" y1="259.80" x2="53.80" y2="259.80" stroke="#777" stroke-width="0.6" />
<line x1="52.50" y1="263.30" x2="53.80" y2="263.30" stroke="#777" stroke-width="0.6" />
<line x1="52.50" y1="266.80" x2="53.80" y2="266.80" stroke="#777" stroke-width="0.6" />
<line x1="52.50" y1="270.30" x2="53.80" y2="270.30" stroke="#777" stroke-width="0.6" />
<line x1="52.50" y1="273.80" x2="53.80" y2="273.80" stroke="#777" stroke-width="0.6" />
<line x1="52.50" y1="277.30" x2="53.80" y2="277.30" stroke="#777" stroke-width="0.6" />
<line x1="52.50" y1="280.80" x2="53.80" y2="280.80" stroke="#777" stroke-width="0.6" />
<line x1="52.50" y1="284.30" x2="53.80" y2="284.30" stroke="#777" stroke-width="0.6" />
<line x1="52.50" y1="287.80" x2="53.80" y2="287.80" stroke="#777" stroke-width="0.6" />
<line x1="52.50" y1="291.30" x2="53.80" y2="291.30" stroke="#777" stroke-width="0.6" />
<line x1="52.50" y1="294.80" x2="53.80" y2="294.80" stroke="#777" stroke-width="0.6" />
<line x1="52.50" y1="298.30" x2="53.80" y2="298.30" stroke="#777" stroke-width="0.6" />
<line x1="52.50" y1="301.80" x2="53.80" y2="301.80" stroke="#777" stroke-width="0.6" />
<line x1="52.50" y1="305.30" x2="53.80" y2="305.30" stroke="#777" stroke-width="0.6" />
<line x1="52.50" y1="308.80" x2="53.80" y2="308.80" stroke="#777" stroke-width="0.6" />
<line x1="52.50" y1="312.30" x2="53.80" y2="312.30" stroke="#777" stroke-width="0.6" />
<line x1="52.50" y1="315.80" x2="53.80" y2="315.80" stroke="#777" stroke-width="0.6" />
<line x1="52.50" y1="319.30" x2="53.80" y2="319.30" stroke="#777" stroke-width="0.6" />
<line x1="52.50" y1="322.80" x2="53.80" y2="322.80" stroke="#777" stroke-width="0.6" />
<line x1="52.50" y1="326.30" x2="53.80" y2="326.30" stroke="#777" stroke-width="0.6" />
<line x1="52.50" y1="329.80" x2="53.80" y2="329.80" stroke="#777" stroke-width="0.6" />
<line x1="51.50" y1="258.80" x2="53.80" y2="258.80" stroke="#333" stroke-width="1" />
<line x1="51.50" y1="280.80" x2="53.80" y2="280.80" stroke="#333" stroke-width="1" />
<line x1="51.50" y1="302.80" x2="53.80" y2="302.80" stroke="#333" stroke-width="1" />
<line x1="51.50" y1="323.80" x2="53.80" y2="323.80" stroke="#333" stroke-width="1" />
<line x1="56.50" y1="329.00" x2="56.50" y2="330.60" stroke="#777" stroke-width="0.6" />
<line x1="60.00" y1="329.00" x2="60.00" y2="330.60" stroke="#777" stroke-width="0.6" />
<line x1="63.50" y1="329.00" x2="63.50" y2="330.60" stroke="#777" stroke-width="0.6" />
<line x1="67.00" y1="329.00" x2="67.00" y2="330.60" stroke="#777" stroke-width="0.6" />
<line x1="70.50" y1="329.00" x2="70.50" y2="330.60" stroke="#777" stroke-width="0.6" />
<line x1="74.00" y1="329.00" x2="74.00" y2="330.60" stroke="#777" stroke-width="0.6" />
<line x1="77.50" y1="329.00" x2="77.50" y2="330.60" stroke="#777" stroke-width="0.6" />
<line x1="81.00" y1="329.00" x2="81.00" y2="330.60" stroke="#777" stroke-width="0.6" />
<line x1="84.50" y1="329.00" x2="84.50" y2="330.60" stroke="#777" stroke-width="0.6" />
<line x1="88.00" y1="329.00" x2="88.00" y2="330.60" stroke="#777" stroke-width="0.6" />
<line x1="91.50" y1="329.00" x2="91.50" y2="330.60" stroke="#777" stroke-width="0.6" />
<line x1="95.00" y1="329.00" x2="95.00" y2="330.60" stroke="#777" stroke-width="0.6" />
<line x1="98.50" y1="329.00" x2="98.50" y2="330.60" stroke="#777" stroke-width="0.6" />
<line x1="102.00" y1="329.00" x2="102.00" y2="330.60" stroke="#777" stroke-width="0.6" />
<line x1="105.50" y1="329.00" x2="105.50" y2="330.60" stroke="#777" stroke-width="0.6" />
<line x1="109.00" y1="329.00" x2="109.00" y2="330.60" stroke="#777" stroke-width="0.6" />
<line x1="112.50" y1="329.00" x2="112.50" y2="330.60" stroke="#777" stroke-width="0.6" />
<line x1="116.00" y1="329.00" x2="116.00" y2="330.60" stroke="#777" stroke-width="0.6" />
<line x1="119.50" y1="329.00" x2="119.50" y2="330.60" stroke="#777" stroke-width="0.6" />
<line x1="123.00" y1="329.00" x2="123.00" y2="330.60" stroke="#777" stroke-width="0.6" />
<line x1="126.50" y1="329.00" x2="126.50" y2="330.60" stroke="#777" stroke-width="0.6" />
<line x1="130.00" y1="329.00" x2="130.00" y2="330.60" stroke="#777" stroke-width="0.6" />
<line x1="133.50" y1="329.00" x2="133.50" y2="330.60" stroke="#777" stroke-width="0.6" />
<line x1="61.50" y1="329.00" x2="61.50" y2="331.40" stroke="#333" stroke-width="1" />
<line x1="85.50" y1="329.00" x2="85.50" y2="331.40" stroke="#333" stroke-width="1" />
<line x1="106.50" y1="329.00" x2="106.50" y2="331.40" stroke="#333" stroke-width="1" />
<line x1="125.50" y1="329.00" x2="125.50" y2="331.40" stroke="#333" stroke-width="1" />
<line x1="69.00" y1="330.40" x2="73.00" y2="330.40" stroke="#111" stroke-width="1.8" />
<line x1="52.60" y1="309.60" x2="52.60" y2="313.20" stroke="#111" stroke-width="1.8" />
<g filter="url(#b3)">
<ellipse cx="91" cy="306.5" rx="12" ry="5.4" fill="#f6f6f6" stroke="#b8b8b8" stroke-width="0.4" transform="rotate(-14 91 306.5)"/>
<ellipse cx="100.4" cy="300" rx="12.2" ry="9.4" fill="#f6f6f6" stroke="#b2b2b2" stroke-width="0.4" transform="rotate(-42 100.4 300)"/>
<ellipse cx="100.4" cy="300" rx="10.61" ry="8.18" fill="none" stroke="#b2b2b2" stroke-width="0.4" transform="rotate(-42 100.4 300)"/>
<ellipse cx="100.4" cy="300" rx="9.03" ry="6.96" fill="none" stroke="#b2b2b2" stroke-width="0.4" transform="rotate(-42 100.4 300)"/>
<ellipse cx="100.4" cy="300" rx="7.44" ry="5.73" fill="none" stroke="#b2b2b2" stroke-width="0.4" transform="rotate(-42 100.4 300)"/>
<ellipse cx="100.4" cy="300" rx="5.86" ry="4.51" fill="none" stroke="#b2b2b2" stroke-width="0.4" transform="rotate(-42 100.4 300)"/>
<ellipse cx="100.4" cy="300" rx="4.27" ry="3.29" fill="none" stroke="#b2b2b2" stroke-width="0.4" transform="rotate(-42 100.4 300)"/>
<ellipse cx="100.4" cy="300" rx="2.44" ry="1.88" fill="none" stroke="#b2b2b2" stroke-width="0.4" transform="rotate(-42 100.4 300)"/>
<ellipse cx="79" cy="309.4" rx="10.2" ry="6.8" fill="#a0a0a0" stroke="#787878" stroke-width="0.5" transform="rotate(-4 79 309.4)"/>
<ellipse cx="78.6" cy="309.5" rx="8.6" ry="5.4" fill="#7e7e7e" stroke="#666" stroke-width="0.5" transform="rotate(-4 78.6 309.5)"/>
<ellipse cx="78.2" cy="309.6" rx="7.0" ry="4.1" fill="#686868" stroke="#585858" stroke-width="0.5" transform="rotate(-4 78.2 309.6)"/>
<ellipse cx="77.6" cy="309.8" rx="5.2" ry="2.7" fill="#7c7c7c" stroke="#666" stroke-width="0.4" transform="rotate(-4 77.6 309.8)"/>
<ellipse cx="77" cy="309.9" rx="3.2" ry="1.4" fill="#b4b4b4" stroke="#888" stroke-width="0.3" transform="rotate(-4 77 309.9)"/>
</g>
<line x1="87.50" y1="249.80" x2="87.50" y2="330.20" stroke="#2a2a2a" stroke-width="0.9" />
<line x1="53.50" y1="304.50" x2="134.20" y2="304.50" stroke="#2a2a2a" stroke-width="0.9" />
<text x="55.00" y="262.40" font-size="7.8" text-anchor="start" font-weight="normal" fill="#333" stroke="#333" stroke-width="0.1" >3.27</text>
<text x="125.40" y="262.40" font-size="7.8" text-anchor="end" font-weight="normal" fill="#333" stroke="#333" stroke-width="0.1" >19.3</text>
<text x="55.00" y="323.20" font-size="7.8" text-anchor="start" font-weight="normal" fill="#333" stroke="#333" stroke-width="0.1" >58.7</text>
<text x="125.40" y="323.20" font-size="7.8" text-anchor="end" font-weight="normal" fill="#333" stroke="#333" stroke-width="0.1" >18.8</text>
<text transform="translate(20.20 204.20) rotate(-90)" font-size="11.5" text-anchor="middle" fill="#111" stroke="#111" stroke-width="0.25" >WT TIL</text>
<text transform="translate(20.20 290.00) rotate(-90)" font-size="11.5" text-anchor="middle" fill="#111" stroke="#111" stroke-width="0.25" >KO TIL</text>
<text transform="translate(42.60 307.30) rotate(-90)" font-size="11.5" text-anchor="middle" fill="#111" stroke="#111" stroke-width="0.25" >TIM-3</text>
<line x1="39.20" y1="282.60" x2="39.20" y2="186.00" stroke="#111" stroke-width="1" />
<path d="M39.2 179.6 L36.3 186.8 L42.1 186.8 Z" fill="#111"/>
<text x="44.60" y="345.80" font-size="11.3" text-anchor="start" font-weight="normal" fill="#111" stroke="#111" stroke-width="0.25" >PD-1</text>
<line x1="78.50" y1="342.20" x2="117.00" y2="342.20" stroke="#111" stroke-width="1" />
<path d="M123.4 342.2 L116.2 339.3 L116.2 345.1 Z" fill="#111"/>
<line x1="208.50" y1="208.50" x2="208.50" y2="217.50" stroke="#333" stroke-width="1" />
<line x1="206.00" y1="208.50" x2="211.00" y2="208.50" stroke="#333" stroke-width="1" />
<rect x="201.50" y="217.50" width="13.00" height="72.00" fill="white" stroke="#1a1a1a" stroke-width="1" />
<line x1="238.50" y1="242.50" x2="238.50" y2="250.00" stroke="#333" stroke-width="1" />
<line x1="236.00" y1="242.50" x2="241.00" y2="242.50" stroke="#333" stroke-width="1" />
<rect x="233.00" y="250.00" width="12.00" height="39.50" fill="#000" stroke="none" stroke-width="0" />
<line x1="190.50" y1="200.30" x2="190.50" y2="290.00" stroke="#333" stroke-width="1" />
<line x1="187.50" y1="289.50" x2="256.50" y2="289.50" stroke="#333" stroke-width="1" />
<line x1="187.30" y1="200.50" x2="190.50" y2="200.50" stroke="#333" stroke-width="1" />
<text x="185.60" y="204.99" font-size="10.8" text-anchor="end" font-weight="normal" fill="#111" stroke="#111" stroke-width="0.25" >50</text>
<line x1="187.30" y1="218.50" x2="190.50" y2="218.50" stroke="#333" stroke-width="1" />
<text x="185.60" y="222.69" font-size="10.8" text-anchor="end" font-weight="normal" fill="#111" stroke="#111" stroke-width="0.25" >40</text>
<line x1="187.30" y1="236.50" x2="190.50" y2="236.50" stroke="#333" stroke-width="1" />
<text x="185.60" y="240.49" font-size="10.8" text-anchor="end" font-weight="normal" fill="#111" stroke="#111" stroke-width="0.25" >30</text>
<line x1="187.30" y1="254.50" x2="190.50" y2="254.50" stroke="#333" stroke-width="1" />
<text x="185.60" y="258.19" font-size="10.8" text-anchor="end" font-weight="normal" fill="#111" stroke="#111" stroke-width="0.25" >20</text>
<line x1="187.30" y1="271.50" x2="190.50" y2="271.50" stroke="#333" stroke-width="1" />
<text x="185.60" y="275.89" font-size="10.8" text-anchor="end" font-weight="normal" fill="#111" stroke="#111" stroke-width="0.25" >10</text>
<line x1="187.30" y1="289.50" x2="190.50" y2="289.50" stroke="#333" stroke-width="1" />
<text x="185.60" y="293.69" font-size="10.8" text-anchor="end" font-weight="normal" fill="#111" stroke="#111" stroke-width="0.25" >0</text>
<line x1="202.20" y1="201.50" x2="240.70" y2="201.50" stroke="#777" stroke-width="1" />
<text x="222.70" y="199.00" font-size="10" text-anchor="middle" font-weight="bold" fill="#111" stroke="#111" stroke-width="0.25" >*</text>
<text x="207.80" y="306.30" font-size="10.8" text-anchor="middle" font-weight="normal" fill="#111" stroke="#111" stroke-width="0.25" >WT</text>
<text x="239.60" y="306.30" font-size="10.8" text-anchor="middle" font-weight="normal" fill="#111" stroke="#111" stroke-width="0.25" >KO</text>
<text transform="translate(167.40 242.00) rotate(-90)" font-size="11.5" text-anchor="middle" fill="#111" stroke="#111" stroke-width="0.25" >%&#160; PD-1<tspan font-size="6.5" dy="-3.8">+</tspan><tspan dy="3.8" font-size="1">&#8203;</tspan>TIM-3<tspan font-size="6.5" dy="-3.8">+</tspan><tspan dy="3.8" font-size="1">&#8203;</tspan>&#160; T cells</text>
<line x1="337.50" y1="220.50" x2="337.50" y2="242.50" stroke="#333" stroke-width="1" />
<line x1="335.00" y1="220.50" x2="340.00" y2="220.50" stroke="#333" stroke-width="1" />
<rect x="330.50" y="242.50" width="13.00" height="47.00" fill="white" stroke="#1a1a1a" stroke-width="1" />
<line x1="367.50" y1="275.50" x2="367.50" y2="279.30" stroke="#333" stroke-width="1" />
<line x1="365.00" y1="275.50" x2="370.00" y2="275.50" stroke="#333" stroke-width="1" />
<rect x="361.00" y="279.30" width="13.00" height="10.20" fill="#000" stroke="none" stroke-width="0" />
<line x1="320.50" y1="200.70" x2="320.50" y2="290.00" stroke="#333" stroke-width="1" />
<line x1="317.50" y1="289.50" x2="382.50" y2="289.50" stroke="#333" stroke-width="1" />
<line x1="317.30" y1="201.50" x2="320.50" y2="201.50" stroke="#333" stroke-width="1" />
<text x="313.80" y="205.39" font-size="10.8" text-anchor="end" font-weight="normal" fill="#111" stroke="#111" stroke-width="0.25" >20,000</text>
<line x1="317.30" y1="223.50" x2="320.50" y2="223.50" stroke="#333" stroke-width="1" />
<text x="313.80" y="227.49" font-size="10.8" text-anchor="end" font-weight="normal" fill="#111" stroke="#111" stroke-width="0.25" >15,000</text>
<line x1="317.30" y1="245.50" x2="320.50" y2="245.50" stroke="#333" stroke-width="1" />
<text x="313.80" y="249.49" font-size="10.8" text-anchor="end" font-weight="normal" fill="#111" stroke="#111" stroke-width="0.25" >10,000</text>
<line x1="317.30" y1="267.50" x2="320.50" y2="267.50" stroke="#333" stroke-width="1" />
<text x="313.80" y="271.59" font-size="10.8" text-anchor="end" font-weight="normal" fill="#111" stroke="#111" stroke-width="0.25" >5,000</text>
<line x1="317.30" y1="289.50" x2="320.50" y2="289.50" stroke="#333" stroke-width="1" />
<text x="313.80" y="293.69" font-size="10.8" text-anchor="end" font-weight="normal" fill="#111" stroke="#111" stroke-width="0.25" >0</text>
<line x1="329.50" y1="209.50" x2="367.50" y2="209.50" stroke="#777" stroke-width="1" />
<text x="348.30" y="206.30" font-size="10" text-anchor="middle" font-weight="bold" fill="#111" stroke="#111" stroke-width="0.25" letter-spacing="0.7">***</text>
<text x="335.80" y="306.30" font-size="10.8" text-anchor="middle" font-weight="normal" fill="#111" stroke="#111" stroke-width="0.25" >WT</text>
<text x="367.80" y="306.30" font-size="10.8" text-anchor="middle" font-weight="normal" fill="#111" stroke="#111" stroke-width="0.25" >KO</text>
<text transform="translate(274.80 238.60) rotate(-90)" font-size="11.5" text-anchor="middle" fill="#111" stroke="#111" stroke-width="0.25" ># PD-1<tspan font-size="6.5" dy="-3.8">+</tspan><tspan dy="3.8" font-size="1">&#8203;</tspan>TIM-3<tspan font-size="6.5" dy="-3.8">+</tspan><tspan dy="3.8" font-size="1">&#8203;</tspan> T cells</text>
<text x="398.40" y="163.00" font-size="16.5" text-anchor="start" font-weight="bold" fill="#000" stroke="#000" stroke-width="0.25" >C</text>
<line x1="466.50" y1="253.50" x2="466.50" y2="256.50" stroke="#333" stroke-width="1" />
<line x1="464.00" y1="253.50" x2="469.00" y2="253.50" stroke="#333" stroke-width="1" />
<rect x="459.50" y="256.50" width="14.00" height="30.00" fill="white" stroke="#1a1a1a" stroke-width="1" />
<line x1="501.50" y1="202.50" x2="501.50" y2="218.30" stroke="#333" stroke-width="1" />
<line x1="499.00" y1="202.50" x2="504.00" y2="202.50" stroke="#333" stroke-width="1" />
<rect x="495.00" y="218.30" width="13.00" height="68.20" fill="#000" stroke="none" stroke-width="0" />
<line x1="449.50" y1="195.00" x2="449.50" y2="287.00" stroke="#333" stroke-width="1" />
<line x1="446.50" y1="286.50" x2="517.60" y2="286.50" stroke="#333" stroke-width="1" />
<line x1="446.30" y1="195.50" x2="449.50" y2="195.50" stroke="#333" stroke-width="1" />
<text x="442.80" y="199.69" font-size="10.8" text-anchor="end" font-weight="normal" fill="#111" stroke="#111" stroke-width="0.25" >8</text>
<line x1="446.30" y1="218.50" x2="449.50" y2="218.50" stroke="#333" stroke-width="1" />
<text x="442.80" y="222.49" font-size="10.8" text-anchor="end" font-weight="normal" fill="#111" stroke="#111" stroke-width="0.25" >6</text>
<line x1="446.30" y1="241.50" x2="449.50" y2="241.50" stroke="#333" stroke-width="1" />
<text x="442.80" y="245.39" font-size="10.8" text-anchor="end" font-weight="normal" fill="#111" stroke="#111" stroke-width="0.25" >4</text>
<line x1="446.30" y1="264.50" x2="449.50" y2="264.50" stroke="#333" stroke-width="1" />
<text x="442.80" y="268.19" font-size="10.8" text-anchor="end" font-weight="normal" fill="#111" stroke="#111" stroke-width="0.25" >2</text>
<line x1="446.30" y1="286.50" x2="449.50" y2="286.50" stroke="#333" stroke-width="1" />
<text x="442.80" y="290.99" font-size="10.8" text-anchor="end" font-weight="normal" fill="#111" stroke="#111" stroke-width="0.25" >0</text>
<line x1="463.30" y1="196.50" x2="503.70" y2="196.50" stroke="#777" stroke-width="1" />
<text x="484.50" y="194.50" font-size="10" text-anchor="middle" font-weight="bold" fill="#111" stroke="#111" stroke-width="0.25" >*</text>
<text x="465.90" y="303.40" font-size="10.8" text-anchor="middle" font-weight="normal" fill="#111" stroke="#111" stroke-width="0.25" >WT</text>
<text x="501.80" y="303.40" font-size="10.8" text-anchor="middle" font-weight="normal" fill="#111" stroke="#111" stroke-width="0.25" >KO</text>
<text transform="translate(429.30 240.00) rotate(-90)" font-size="11.8" text-anchor="middle" fill="#111" stroke="#111" stroke-width="0.25" >Effector/exhausted ratio</text>
<text x="0.60" y="373.80" font-size="16.5" text-anchor="start" font-weight="bold" fill="#000" stroke="#000" stroke-width="0.25" >D</text>
<rect x="438.20" y="345.80" width="9.20" height="8.80" fill="#f9b3b8" stroke="#4a3030" stroke-width="1" />
<text x="455.60" y="354.30" font-size="11" text-anchor="start" font-weight="normal" fill="#111" stroke="#111" stroke-width="0.25" >WT</text>
<rect x="486.20" y="345.80" width="9.20" height="8.80" fill="#9be4f4" stroke="#2a4a55" stroke-width="1" />
<text x="503.60" y="354.30" font-size="11" text-anchor="start" font-weight="normal" fill="#111" stroke="#111" stroke-width="0.25" >KO</text>
<path d="M35.2 474.7L35.2 474.3L41.9 472.8L45.8 468.0L48.7 459.3L50.6 445.9L52.5 432.4L54.4 421.8L56.0 415.1L57.3 421.8L58.8 425.7L60.2 423.8L61.7 419.9L63.1 426.7L64.6 430.9L66.9 430.9L69.4 428.6L71.7 430.5L73.7 438.2L76.5 451.7L79.4 463.2L82.3 470.5L85.2 473.6L88.1 474.5L88.1 474.7Z" fill="#86daf3" stroke="#3fb2d8" stroke-width="0.8" stroke-linejoin="round"/>
<path d="M43.8 474.7L43.8 474.5L48.7 469.9L52.5 463.2L56.3 460.3L59.2 454.5L62.1 452.6L65.0 446.8L67.9 438.2L69.4 426.7L70.8 415.1L72.1 407.4L73.7 405.1L74.6 397.8L75.8 404.5L76.9 409.3L78.5 420.9L79.8 436.3L81.3 451.7L83.3 461.3L86.2 468.0L89.0 470.9L91.9 472.4L95.8 474.3L95.8 474.7Z" fill="#f59b9d" stroke="#e4625e" stroke-width="0.8" stroke-linejoin="round"/>
<clipPath id="cPD1"><path d="M43.8 474.7L43.8 474.5L48.7 469.9L52.5 463.2L56.3 460.3L59.2 454.5L62.1 452.6L65.0 446.8L67.9 438.2L69.4 426.7L70.8 415.1L72.1 407.4L73.7 405.1L74.6 397.8L75.8 404.5L76.9 409.3L78.5 420.9L79.8 436.3L81.3 451.7L83.3 461.3L86.2 468.0L89.0 470.9L91.9 472.4L95.8 474.3L95.8 474.7Z"/></clipPath>
<path d="M35.2 474.7L35.2 474.3L41.9 472.8L45.8 468.0L48.7 459.3L50.6 445.9L52.5 432.4L54.4 421.8L56.0 415.1L57.3 421.8L58.8 425.7L60.2 423.8L61.7 419.9L63.1 426.7L64.6 430.9L66.9 430.9L69.4 428.6L71.7 430.5L73.7 438.2L76.5 451.7L79.4 463.2L82.3 470.5L85.2 473.6L88.1 474.5L88.1 474.7Z" fill="#8ea7c2" stroke="#6f93b6" stroke-width="0.8" clip-path="url(#cPD1)"/>
<path d="M21.2 388.5H107.2V474.7" fill="none" stroke="#858585" stroke-width="0.9"/>
<line x1="21.20" y1="388.50" x2="21.20" y2="474.70" stroke="#7a7a7a" stroke-width="0.9" />
<line x1="21.20" y1="474.70" x2="107.20" y2="474.70" stroke="#8ab" stroke-width="0.6" />
<line x1="20.10" y1="390.50" x2="21.20" y2="390.50" stroke="#888" stroke-width="0.5" />
<line x1="20.10" y1="393.75" x2="21.20" y2="393.75" stroke="#888" stroke-width="0.5" />
<line x1="20.10" y1="397.00" x2="21.20" y2="397.00" stroke="#888" stroke-width="0.5" />
<line x1="20.10" y1="400.25" x2="21.20" y2="400.25" stroke="#888" stroke-width="0.5" />
<line x1="20.10" y1="403.50" x2="21.20" y2="403.50" stroke="#888" stroke-width="0.5" />
<line x1="20.10" y1="406.75" x2="21.20" y2="406.75" stroke="#888" stroke-width="0.5" />
<line x1="20.10" y1="410.00" x2="21.20" y2="410.00" stroke="#888" stroke-width="0.5" />
<line x1="20.10" y1="413.25" x2="21.20" y2="413.25" stroke="#888" stroke-width="0.5" />
<line x1="20.10" y1="416.50" x2="21.20" y2="416.50" stroke="#888" stroke-width="0.5" />
<line x1="20.10" y1="419.75" x2="21.20" y2="419.75" stroke="#888" stroke-width="0.5" />
<line x1="20.10" y1="423.00" x2="21.20" y2="423.00" stroke="#888" stroke-width="0.5" />
<line x1="20.10" y1="426.25" x2="21.20" y2="426.25" stroke="#888" stroke-width="0.5" />
<line x1="20.10" y1="429.50" x2="21.20" y2="429.50" stroke="#888" stroke-width="0.5" />
<line x1="20.10" y1="432.75" x2="21.20" y2="432.75" stroke="#888" stroke-width="0.5" />
<line x1="20.10" y1="436.00" x2="21.20" y2="436.00" stroke="#888" stroke-width="0.5" />
<line x1="20.10" y1="439.25" x2="21.20" y2="439.25" stroke="#888" stroke-width="0.5" />
<line x1="20.10" y1="442.50" x2="21.20" y2="442.50" stroke="#888" stroke-width="0.5" />
<line x1="20.10" y1="445.75" x2="21.20" y2="445.75" stroke="#888" stroke-width="0.5" />
<line x1="20.10" y1="449.00" x2="21.20" y2="449.00" stroke="#888" stroke-width="0.5" />
<line x1="20.10" y1="452.25" x2="21.20" y2="452.25" stroke="#888" stroke-width="0.5" />
<line x1="20.10" y1="455.50" x2="21.20" y2="455.50" stroke="#888" stroke-width="0.5" />
<line x1="20.10" y1="458.75" x2="21.20" y2="458.75" stroke="#888" stroke-width="0.5" />
<line x1="20.10" y1="462.00" x2="21.20" y2="462.00" stroke="#888" stroke-width="0.5" />
<line x1="20.10" y1="465.25" x2="21.20" y2="465.25" stroke="#888" stroke-width="0.5" />
<line x1="20.10" y1="468.50" x2="21.20" y2="468.50" stroke="#888" stroke-width="0.5" />
<line x1="20.10" y1="471.75" x2="21.20" y2="471.75" stroke="#888" stroke-width="0.5" />
<line x1="19.20" y1="391.00" x2="21.20" y2="391.00" stroke="#555" stroke-width="0.9" />
<line x1="19.20" y1="407.30" x2="21.20" y2="407.30" stroke="#555" stroke-width="0.9" />
<line x1="19.20" y1="423.60" x2="21.20" y2="423.60" stroke="#555" stroke-width="0.9" />
<line x1="19.20" y1="439.90" x2="21.20" y2="439.90" stroke="#555" stroke-width="0.9" />
<line x1="19.20" y1="456.20" x2="21.20" y2="456.20" stroke="#555" stroke-width="0.9" />
<line x1="19.20" y1="472.50" x2="21.20" y2="472.50" stroke="#555" stroke-width="0.9" />
<line x1="23.20" y1="475.10" x2="23.20" y2="476.00" stroke="#888" stroke-width="0.5" />
<line x1="26.45" y1="475.10" x2="26.45" y2="476.00" stroke="#888" stroke-width="0.5" />
<line x1="29.70" y1="475.10" x2="29.70" y2="476.00" stroke="#888" stroke-width="0.5" />
<line x1="32.95" y1="475.10" x2="32.95" y2="476.00" stroke="#888" stroke-width="0.5" />
<line x1="36.20" y1="475.10" x2="36.20" y2="476.00" stroke="#888" stroke-width="0.5" />
<line x1="39.45" y1="475.10" x2="39.45" y2="476.00" stroke="#888" stroke-width="0.5" />
<line x1="42.70" y1="475.10" x2="42.70" y2="476.00" stroke="#888" stroke-width="0.5" />
<line x1="45.95" y1="475.10" x2="45.95" y2="476.00" stroke="#888" stroke-width="0.5" />
<line x1="49.20" y1="475.10" x2="49.20" y2="476.00" stroke="#888" stroke-width="0.5" />
<line x1="52.45" y1="475.10" x2="52.45" y2="476.00" stroke="#888" stroke-width="0.5" />
<line x1="55.70" y1="475.10" x2="55.70" y2="476.00" stroke="#888" stroke-width="0.5" />
<line x1="58.95" y1="475.10" x2="58.95" y2="476.00" stroke="#888" stroke-width="0.5" />
<line x1="62.20" y1="475.10" x2="62.20" y2="476.00" stroke="#888" stroke-width="0.5" />
<line x1="65.45" y1="475.10" x2="65.45" y2="476.00" stroke="#888" stroke-width="0.5" />
<line x1="68.70" y1="475.10" x2="68.70" y2="476.00" stroke="#888" stroke-width="0.5" />
<line x1="71.95" y1="475.10" x2="71.95" y2="476.00" stroke="#888" stroke-width="0.5" />
<line x1="75.20" y1="475.10" x2="75.20" y2="476.00" stroke="#888" stroke-width="0.5" />
<line x1="78.45" y1="475.10" x2="78.45" y2="476.00" stroke="#888" stroke-width="0.5" />
<line x1="81.70" y1="475.10" x2="81.70" y2="476.00" stroke="#888" stroke-width="0.5" />
<line x1="84.95" y1="475.10" x2="84.95" y2="476.00" stroke="#888" stroke-width="0.5" />
<line x1="88.20" y1="475.10" x2="88.20" y2="476.00" stroke="#888" stroke-width="0.5" />
<line x1="91.45" y1="475.10" x2="91.45" y2="476.00" stroke="#888" stroke-width="0.5" />
<line x1="94.70" y1="475.10" x2="94.70" y2="476.00" stroke="#888" stroke-width="0.5" />
<line x1="97.95" y1="475.10" x2="97.95" y2="476.00" stroke="#888" stroke-width="0.5" />
<line x1="101.20" y1="475.10" x2="101.20" y2="476.00" stroke="#888" stroke-width="0.5" />
<line x1="104.45" y1="475.10" x2="104.45" y2="476.00" stroke="#888" stroke-width="0.5" />
<line x1="29.20" y1="475.10" x2="29.20" y2="476.70" stroke="#555" stroke-width="0.9" />
<line x1="47.20" y1="475.10" x2="47.20" y2="476.70" stroke="#555" stroke-width="0.9" />
<line x1="64.20" y1="475.10" x2="64.20" y2="476.70" stroke="#555" stroke-width="0.9" />
<line x1="81.20" y1="475.10" x2="81.20" y2="476.70" stroke="#555" stroke-width="0.9" />
<line x1="98.20" y1="475.10" x2="98.20" y2="476.70" stroke="#555" stroke-width="0.9" />
<text x="62.70" y="382.40" font-size="11.2" text-anchor="middle" font-weight="normal" fill="#111" stroke="#111" stroke-width="0.25" >PD-1</text>
<path d="M126.0 474.7L126.0 474.3L127.5 470.9L132.3 469.9L136.2 469.0L139.0 465.1L141.9 457.4L144.8 449.7L147.7 444.0L149.6 428.6L151.0 413.2L152.1 409.0L153.5 414.2L155.4 413.2L156.7 422.8L158.3 431.5L159.8 433.4L161.2 440.1L163.1 444.9L164.6 443.0L166.9 442.0L168.8 443.0L170.8 445.9L172.3 457.4L174.2 468.0L176.5 472.8L179.4 474.3L179.4 474.7Z" fill="#86daf3" stroke="#3fb2d8" stroke-width="0.8" stroke-linejoin="round"/>
<path d="M138.1 474.7L138.1 474.3L141.0 470.9L142.9 467.0L144.8 468.0L146.7 465.1L149.6 457.4L152.5 450.7L154.8 447.8L156.9 450.7L158.8 456.5L160.8 461.3L162.1 457.4L163.7 444.0L165.4 430.5L166.9 418.0L167.9 414.7L169.0 419.0L170.4 432.4L171.7 447.8L173.3 461.3L175.0 469.9L177.5 473.2L180.4 474.3L180.4 474.7Z" fill="#f59b9d" stroke="#e4625e" stroke-width="0.8" stroke-linejoin="round"/>
<clipPath id="cTIM3"><path d="M138.1 474.7L138.1 474.3L141.0 470.9L142.9 467.0L144.8 468.0L146.7 465.1L149.6 457.4L152.5 450.7L154.8 447.8L156.9 450.7L158.8 456.5L160.8 461.3L162.1 457.4L163.7 444.0L165.4 430.5L166.9 418.0L167.9 414.7L169.0 419.0L170.4 432.4L171.7 447.8L173.3 461.3L175.0 469.9L177.5 473.2L180.4 474.3L180.4 474.7Z"/></clipPath>
<path d="M126.0 474.7L126.0 474.3L127.5 470.9L132.3 469.9L136.2 469.0L139.0 465.1L141.9 457.4L144.8 449.7L147.7 444.0L149.6 428.6L151.0 413.2L152.1 409.0L153.5 414.2L155.4 413.2L156.7 422.8L158.3 431.5L159.8 433.4L161.2 440.1L163.1 444.9L164.6 443.0L166.9 442.0L168.8 443.0L170.8 445.9L172.3 457.4L174.2 468.0L176.5 472.8L179.4 474.3L179.4 474.7Z" fill="#8ea7c2" stroke="#6f93b6" stroke-width="0.8" clip-path="url(#cTIM3)"/>
<path d="M125.6 388.5H210.6V474.7" fill="none" stroke="#858585" stroke-width="0.9"/>
<line x1="125.60" y1="388.50" x2="125.60" y2="474.70" stroke="#4ab" stroke-width="0.9" />
<line x1="125.60" y1="474.70" x2="210.60" y2="474.70" stroke="#8ab" stroke-width="0.6" />
<line x1="124.50" y1="390.50" x2="125.60" y2="390.50" stroke="#888" stroke-width="0.5" />
<line x1="124.50" y1="393.75" x2="125.60" y2="393.75" stroke="#888" stroke-width="0.5" />
<line x1="124.50" y1="397.00" x2="125.60" y2="397.00" stroke="#888" stroke-width="0.5" />
<line x1="124.50" y1="400.25" x2="125.60" y2="400.25" stroke="#888" stroke-width="0.5" />
<line x1="124.50" y1="403.50" x2="125.60" y2="403.50" stroke="#888" stroke-width="0.5" />
<line x1="124.50" y1="406.75" x2="125.60" y2="406.75" stroke="#888" stroke-width="0.5" />
<line x1="124.50" y1="410.00" x2="125.60" y2="410.00" stroke="#888" stroke-width="0.5" />
<line x1="124.50" y1="413.25" x2="125.60" y2="413.25" stroke="#888" stroke-width="0.5" />
<line x1="124.50" y1="416.50" x2="125.60" y2="416.50" stroke="#888" stroke-width="0.5" />
<line x1="124.50" y1="419.75" x2="125.60" y2="419.75" stroke="#888" stroke-width="0.5" />
<line x1="124.50" y1="423.00" x2="125.60" y2="423.00" stroke="#888" stroke-width="0.5" />
<line x1="124.50" y1="426.25" x2="125.60" y2="426.25" stroke="#888" stroke-width="0.5" />
<line x1="124.50" y1="429.50" x2="125.60" y2="429.50" stroke="#888" stroke-width="0.5" />
<line x1="124.50" y1="432.75" x2="125.60" y2="432.75" stroke="#888" stroke-width="0.5" />
<line x1="124.50" y1="436.00" x2="125.60" y2="436.00" stroke="#888" stroke-width="0.5" />
<line x1="124.50" y1="439.25" x2="125.60" y2="439.25" stroke="#888" stroke-width="0.5" />
<line x1="124.50" y1="442.50" x2="125.60" y2="442.50" stroke="#888" stroke-width="0.5" />
<line x1="124.50" y1="445.75" x2="125.60" y2="445.75" stroke="#888" stroke-width="0.5" />
<line x1="124.50" y1="449.00" x2="125.60" y2="449.00" stroke="#888" stroke-width="0.5" />
<line x1="124.50" y1="452.25" x2="125.60" y2="452.25" stroke="#888" stroke-width="0.5" />
<line x1="124.50" y1="455.50" x2="125.60" y2="455.50" stroke="#888" stroke-width="0.5" />
<line x1="124.50" y1="458.75" x2="125.60" y2="458.75" stroke="#888" stroke-width="0.5" />
<line x1="124.50" y1="462.00" x2="125.60" y2="462.00" stroke="#888" stroke-width="0.5" />
<line x1="124.50" y1="465.25" x2="125.60" y2="465.25" stroke="#888" stroke-width="0.5" />
<line x1="124.50" y1="468.50" x2="125.60" y2="468.50" stroke="#888" stroke-width="0.5" />
<line x1="124.50" y1="471.75" x2="125.60" y2="471.75" stroke="#888" stroke-width="0.5" />
<line x1="123.60" y1="391.00" x2="125.60" y2="391.00" stroke="#555" stroke-width="0.9" />
<line x1="123.60" y1="407.30" x2="125.60" y2="407.30" stroke="#555" stroke-width="0.9" />
<line x1="123.60" y1="423.60" x2="125.60" y2="423.60" stroke="#555" stroke-width="0.9" />
<line x1="123.60" y1="439.90" x2="125.60" y2="439.90" stroke="#555" stroke-width="0.9" />
<line x1="123.60" y1="456.20" x2="125.60" y2="456.20" stroke="#555" stroke-width="0.9" />
<line x1="123.60" y1="472.50" x2="125.60" y2="472.50" stroke="#555" stroke-width="0.9" />
<line x1="127.60" y1="475.10" x2="127.60" y2="476.00" stroke="#888" stroke-width="0.5" />
<line x1="130.85" y1="475.10" x2="130.85" y2="476.00" stroke="#888" stroke-width="0.5" />
<line x1="134.10" y1="475.10" x2="134.10" y2="476.00" stroke="#888" stroke-width="0.5" />
<line x1="137.35" y1="475.10" x2="137.35" y2="476.00" stroke="#888" stroke-width="0.5" />
<line x1="140.60" y1="475.10" x2="140.60" y2="476.00" stroke="#888" stroke-width="0.5" />
<line x1="143.85" y1="475.10" x2="143.85" y2="476.00" stroke="#888" stroke-width="0.5" />
<line x1="147.10" y1="475.10" x2="147.10" y2="476.00" stroke="#888" stroke-width="0.5" />
<line x1="150.35" y1="475.10" x2="150.35" y2="476.00" stroke="#888" stroke-width="0.5" />
<line x1="153.60" y1="475.10" x2="153.60" y2="476.00" stroke="#888" stroke-width="0.5" />
<line x1="156.85" y1="475.10" x2="156.85" y2="476.00" stroke="#888" stroke-width="0.5" />
<line x1="160.10" y1="475.10" x2="160.10" y2="476.00" stroke="#888" stroke-width="0.5" />
<line x1="163.35" y1="475.10" x2="163.35" y2="476.00" stroke="#888" stroke-width="0.5" />
<line x1="166.60" y1="475.10" x2="166.60" y2="476.00" stroke="#888" stroke-width="0.5" />
<line x1="169.85" y1="475.10" x2="169.85" y2="476.00" stroke="#888" stroke-width="0.5" />
<line x1="173.10" y1="475.10" x2="173.10" y2="476.00" stroke="#888" stroke-width="0.5" />
<line x1="176.35" y1="475.10" x2="176.35" y2="476.00" stroke="#888" stroke-width="0.5" />
<line x1="179.60" y1="475.10" x2="179.60" y2="476.00" stroke="#888" stroke-width="0.5" />
<line x1="182.85" y1="475.10" x2="182.85" y2="476.00" stroke="#888" stroke-width="0.5" />
<line x1="186.10" y1="475.10" x2="186.10" y2="476.00" stroke="#888" stroke-width="0.5" />
<line x1="189.35" y1="475.10" x2="189.35" y2="476.00" stroke="#888" stroke-width="0.5" />
<line x1="192.60" y1="475.10" x2="192.60" y2="476.00" stroke="#888" stroke-width="0.5" />
<line x1="195.85" y1="475.10" x2="195.85" y2="476.00" stroke="#888" stroke-width="0.5" />
<line x1="199.10" y1="475.10" x2="199.10" y2="476.00" stroke="#888" stroke-width="0.5" />
<line x1="202.35" y1="475.10" x2="202.35" y2="476.00" stroke="#888" stroke-width="0.5" />
<line x1="205.60" y1="475.10" x2="205.60" y2="476.00" stroke="#888" stroke-width="0.5" />
<line x1="208.85" y1="475.10" x2="208.85" y2="476.00" stroke="#888" stroke-width="0.5" />
<line x1="133.60" y1="475.10" x2="133.60" y2="476.70" stroke="#555" stroke-width="0.9" />
<line x1="151.60" y1="475.10" x2="151.60" y2="476.70" stroke="#555" stroke-width="0.9" />
<line x1="168.60" y1="475.10" x2="168.60" y2="476.70" stroke="#555" stroke-width="0.9" />
<line x1="185.60" y1="475.10" x2="185.60" y2="476.70" stroke="#555" stroke-width="0.9" />
<line x1="202.60" y1="475.10" x2="202.60" y2="476.70" stroke="#555" stroke-width="0.9" />
<text x="166.60" y="380.60" font-size="11.2" text-anchor="middle" font-weight="normal" fill="#111" stroke="#111" stroke-width="0.25" >TIM-3</text>
<path d="M228.1 474.7L228.1 474.3L229.4 472.4L234.2 470.9L238.1 468.0L241.9 466.1L244.8 461.3L246.7 453.6L248.7 445.9L250.0 436.3L251.2 425.1L252.3 432.4L253.5 430.5L254.8 426.7L256.0 434.3L257.3 442.0L259.2 453.6L261.2 461.3L263.1 469.0L265.4 471.8L267.9 469.9L270.8 466.1L273.7 464.2L276.2 465.1L278.5 469.0L281.3 473.2L284.2 474.3L284.2 474.7Z" fill="#86daf3" stroke="#3fb2d8" stroke-width="0.8" stroke-linejoin="round"/>
<path d="M241.9 474.7L241.9 474.3L246.7 470.9L249.6 465.1L252.5 457.4L255.0 453.6L257.3 457.4L260.2 465.1L263.1 470.9L265.4 472.4L267.3 467.0L268.8 453.6L270.2 434.3L271.3 417.0L272.7 411.3L273.7 410.3L275.0 412.2L276.5 413.2L277.5 422.8L278.8 438.2L280.4 453.6L281.9 465.1L283.8 471.8L286.2 474.3L286.2 474.7Z" fill="#f59b9d" stroke="#e4625e" stroke-width="0.8" stroke-linejoin="round"/>
<clipPath id="cCTLA4"><path d="M241.9 474.7L241.9 474.3L246.7 470.9L249.6 465.1L252.5 457.4L255.0 453.6L257.3 457.4L260.2 465.1L263.1 470.9L265.4 472.4L267.3 467.0L268.8 453.6L270.2 434.3L271.3 417.0L272.7 411.3L273.7 410.3L275.0 412.2L276.5 413.2L277.5 422.8L278.8 438.2L280.4 453.6L281.9 465.1L283.8 471.8L286.2 474.3L286.2 474.7Z"/></clipPath>
<path d="M228.1 474.7L228.1 474.3L229.4 472.4L234.2 470.9L238.1 468.0L241.9 466.1L244.8 461.3L246.7 453.6L248.7 445.9L250.0 436.3L251.2 425.1L252.3 432.4L253.5 430.5L254.8 426.7L256.0 434.3L257.3 442.0L259.2 453.6L261.2 461.3L263.1 469.0L265.4 471.8L267.9 469.9L270.8 466.1L273.7 464.2L276.2 465.1L278.5 469.0L281.3 473.2L284.2 474.3L284.2 474.7Z" fill="#8ea7c2" stroke="#6f93b6" stroke-width="0.8" clip-path="url(#cCTLA4)"/>
<path d="M227.5 388.5H311.8V474.7" fill="none" stroke="#858585" stroke-width="0.9"/>
<line x1="227.50" y1="388.50" x2="227.50" y2="474.70" stroke="#4ab" stroke-width="0.9" />
<line x1="227.50" y1="474.70" x2="311.80" y2="474.70" stroke="#8ab" stroke-width="0.6" />
<line x1="226.40" y1="390.50" x2="227.50" y2="390.50" stroke="#888" stroke-width="0.5" />
<line x1="226.40" y1="393.75" x2="227.50" y2="393.75" stroke="#888" stroke-width="0.5" />
<line x1="226.40" y1="397.00" x2="227.50" y2="397.00" stroke="#888" stroke-width="0.5" />
<line x1="226.40" y1="400.25" x2="227.50" y2="400.25" stroke="#888" stroke-width="0.5" />
<line x1="226.40" y1="403.50" x2="227.50" y2="403.50" stroke="#888" stroke-width="0.5" />
<line x1="226.40" y1="406.75" x2="227.50" y2="406.75" stroke="#888" stroke-width="0.5" />
<line x1="226.40" y1="410.00" x2="227.50" y2="410.00" stroke="#888" stroke-width="0.5" />
<line x1="226.40" y1="413.25" x2="227.50" y2="413.25" stroke="#888" stroke-width="0.5" />
<line x1="226.40" y1="416.50" x2="227.50" y2="416.50" stroke="#888" stroke-width="0.5" />
<line x1="226.40" y1="419.75" x2="227.50" y2="419.75" stroke="#888" stroke-width="0.5" />
<line x1="226.40" y1="423.00" x2="227.50" y2="423.00" stroke="#888" stroke-width="0.5" />
<line x1="226.40" y1="426.25" x2="227.50" y2="426.25" stroke="#888" stroke-width="0.5" />
<line x1="226.40" y1="429.50" x2="227.50" y2="429.50" stroke="#888" stroke-width="0.5" />
<line x1="226.40" y1="432.75" x2="227.50" y2="432.75" stroke="#888" stroke-width="0.5" />
<line x1="226.40" y1="436.00" x2="227.50" y2="436.00" stroke="#888" stroke-width="0.5" />
<line x1="226.40" y1="439.25" x2="227.50" y2="439.25" stroke="#888" stroke-width="0.5" />
<line x1="226.40" y1="442.50" x2="227.50" y2="442.50" stroke="#888" stroke-width="0.5" />
<line x1="226.40" y1="445.75" x2="227.50" y2="445.75" stroke="#888" stroke-width="0.5" />
<line x1="226.40" y1="449.00" x2="227.50" y2="449.00" stroke="#888" stroke-width="0.5" />
<line x1="226.40" y1="452.25" x2="227.50" y2="452.25" stroke="#888" stroke-width="0.5" />
<line x1="226.40" y1="455.50" x2="227.50" y2="455.50" stroke="#888" stroke-width="0.5" />
<line x1="226.40" y1="458.75" x2="227.50" y2="458.75" stroke="#888" stroke-width="0.5" />
<line x1="226.40" y1="462.00" x2="227.50" y2="462.00" stroke="#888" stroke-width="0.5" />
<line x1="226.40" y1="465.25" x2="227.50" y2="465.25" stroke="#888" stroke-width="0.5" />
<line x1="226.40" y1="468.50" x2="227.50" y2="468.50" stroke="#888" stroke-width="0.5" />
<line x1="226.40" y1="471.75" x2="227.50" y2="471.75" stroke="#888" stroke-width="0.5" />
<line x1="225.50" y1="391.00" x2="227.50" y2="391.00" stroke="#555" stroke-width="0.9" />
<line x1="225.50" y1="407.30" x2="227.50" y2="407.30" stroke="#555" stroke-width="0.9" />
<line x1="225.50" y1="423.60" x2="227.50" y2="423.60" stroke="#555" stroke-width="0.9" />
<line x1="225.50" y1="439.90" x2="227.50" y2="439.90" stroke="#555" stroke-width="0.9" />
<line x1="225.50" y1="456.20" x2="227.50" y2="456.20" stroke="#555" stroke-width="0.9" />
<line x1="225.50" y1="472.50" x2="227.50" y2="472.50" stroke="#555" stroke-width="0.9" />
<line x1="229.50" y1="475.10" x2="229.50" y2="476.00" stroke="#888" stroke-width="0.5" />
<line x1="232.75" y1="475.10" x2="232.75" y2="476.00" stroke="#888" stroke-width="0.5" />
<line x1="236.00" y1="475.10" x2="236.00" y2="476.00" stroke="#888" stroke-width="0.5" />
<line x1="239.25" y1="475.10" x2="239.25" y2="476.00" stroke="#888" stroke-width="0.5" />
<line x1="242.50" y1="475.10" x2="242.50" y2="476.00" stroke="#888" stroke-width="0.5" />
<line x1="245.75" y1="475.10" x2="245.75" y2="476.00" stroke="#888" stroke-width="0.5" />
<line x1="249.00" y1="475.10" x2="249.00" y2="476.00" stroke="#888" stroke-width="0.5" />
<line x1="252.25" y1="475.10" x2="252.25" y2="476.00" stroke="#888" stroke-width="0.5" />
<line x1="255.50" y1="475.10" x2="255.50" y2="476.00" stroke="#888" stroke-width="0.5" />
<line x1="258.75" y1="475.10" x2="258.75" y2="476.00" stroke="#888" stroke-width="0.5" />
<line x1="262.00" y1="475.10" x2="262.00" y2="476.00" stroke="#888" stroke-width="0.5" />
<line x1="265.25" y1="475.10" x2="265.25" y2="476.00" stroke="#888" stroke-width="0.5" />
<line x1="268.50" y1="475.10" x2="268.50" y2="476.00" stroke="#888" stroke-width="0.5" />
<line x1="271.75" y1="475.10" x2="271.75" y2="476.00" stroke="#888" stroke-width="0.5" />
<line x1="275.00" y1="475.10" x2="275.00" y2="476.00" stroke="#888" stroke-width="0.5" />
<line x1="278.25" y1="475.10" x2="278.25" y2="476.00" stroke="#888" stroke-width="0.5" />
<line x1="281.50" y1="475.10" x2="281.50" y2="476.00" stroke="#888" stroke-width="0.5" />
<line x1="284.75" y1="475.10" x2="284.75" y2="476.00" stroke="#888" stroke-width="0.5" />
<line x1="288.00" y1="475.10" x2="288.00" y2="476.00" stroke="#888" stroke-width="0.5" />
<line x1="291.25" y1="475.10" x2="291.25" y2="476.00" stroke="#888" stroke-width="0.5" />
<line x1="294.50" y1="475.10" x2="294.50" y2="476.00" stroke="#888" stroke-width="0.5" />
<line x1="297.75" y1="475.10" x2="297.75" y2="476.00" stroke="#888" stroke-width="0.5" />
<line x1="301.00" y1="475.10" x2="301.00" y2="476.00" stroke="#888" stroke-width="0.5" />
<line x1="304.25" y1="475.10" x2="304.25" y2="476.00" stroke="#888" stroke-width="0.5" />
<line x1="307.50" y1="475.10" x2="307.50" y2="476.00" stroke="#888" stroke-width="0.5" />
<line x1="310.75" y1="475.10" x2="310.75" y2="476.00" stroke="#888" stroke-width="0.5" />
<line x1="235.50" y1="475.10" x2="235.50" y2="476.70" stroke="#555" stroke-width="0.9" />
<line x1="253.50" y1="475.10" x2="253.50" y2="476.70" stroke="#555" stroke-width="0.9" />
<line x1="270.50" y1="475.10" x2="270.50" y2="476.70" stroke="#555" stroke-width="0.9" />
<line x1="287.50" y1="475.10" x2="287.50" y2="476.70" stroke="#555" stroke-width="0.9" />
<line x1="304.50" y1="475.10" x2="304.50" y2="476.70" stroke="#555" stroke-width="0.9" />
<text x="270.00" y="379.20" font-size="11.2" text-anchor="middle" font-weight="normal" fill="#111" stroke="#111" stroke-width="0.25" >CTLA4</text>
<path d="M330.8 474.7L330.8 469.0L332.3 474.3L341.9 474.3L345.8 469.9L351.5 466.1L353.5 461.3L354.8 453.6L356.0 446.8L357.3 447.8L358.8 438.2L360.2 430.5L361.5 422.8L363.1 410.9L364.6 410.9L366.0 422.8L367.3 436.3L368.8 445.9L370.8 453.6L372.7 457.4L375.0 451.7L376.5 445.9L378.5 453.6L380.4 461.3L383.3 469.0L386.2 472.8L389.0 474.3L389.0 474.7Z" fill="#86daf3" stroke="#3fb2d8" stroke-width="0.8" stroke-linejoin="round"/>
<path d="M356.3 474.7L356.3 474.3L358.3 469.0L360.2 461.3L361.5 457.0L363.1 458.4L364.4 456.5L366.0 457.4L367.3 455.5L368.8 458.4L370.4 461.3L372.7 455.5L374.6 447.8L376.2 438.2L377.5 428.2L378.8 426.7L380.0 421.8L381.0 417.4L381.9 426.7L383.3 438.2L384.6 447.8L385.8 457.4L387.1 465.1L389.0 471.8L391.0 474.3L391.0 474.7Z" fill="#f59b9d" stroke="#e4625e" stroke-width="0.8" stroke-linejoin="round"/>
<clipPath id="cLAG3"><path d="M356.3 474.7L356.3 474.3L358.3 469.0L360.2 461.3L361.5 457.0L363.1 458.4L364.4 456.5L366.0 457.4L367.3 455.5L368.8 458.4L370.4 461.3L372.7 455.5L374.6 447.8L376.2 438.2L377.5 428.2L378.8 426.7L380.0 421.8L381.0 417.4L381.9 426.7L383.3 438.2L384.6 447.8L385.8 457.4L387.1 465.1L389.0 471.8L391.0 474.3L391.0 474.7Z"/></clipPath>
<path d="M330.8 474.7L330.8 469.0L332.3 474.3L341.9 474.3L345.8 469.9L351.5 466.1L353.5 461.3L354.8 453.6L356.0 446.8L357.3 447.8L358.8 438.2L360.2 430.5L361.5 422.8L363.1 410.9L364.6 410.9L366.0 422.8L367.3 436.3L368.8 445.9L370.8 453.6L372.7 457.4L375.0 451.7L376.5 445.9L378.5 453.6L380.4 461.3L383.3 469.0L386.2 472.8L389.0 474.3L389.0 474.7Z" fill="#8ea7c2" stroke="#6f93b6" stroke-width="0.8" clip-path="url(#cLAG3)"/>
<path d="M330.8 388.5H416.0V474.7" fill="none" stroke="#858585" stroke-width="0.9"/>
<line x1="330.80" y1="388.50" x2="330.80" y2="474.70" stroke="#4ab" stroke-width="0.9" />
<line x1="330.80" y1="474.70" x2="416.00" y2="474.70" stroke="#8ab" stroke-width="0.6" />
<line x1="329.70" y1="390.50" x2="330.80" y2="390.50" stroke="#888" stroke-width="0.5" />
<line x1="329.70" y1="393.75" x2="330.80" y2="393.75" stroke="#888" stroke-width="0.5" />
<line x1="329.70" y1="397.00" x2="330.80" y2="397.00" stroke="#888" stroke-width="0.5" />
<line x1="329.70" y1="400.25" x2="330.80" y2="400.25" stroke="#888" stroke-width="0.5" />
<line x1="329.70" y1="403.50" x2="330.80" y2="403.50" stroke="#888" stroke-width="0.5" />
<line x1="329.70" y1="406.75" x2="330.80" y2="406.75" stroke="#888" stroke-width="0.5" />
<line x1="329.70" y1="410.00" x2="330.80" y2="410.00" stroke="#888" stroke-width="0.5" />
<line x1="329.70" y1="413.25" x2="330.80" y2="413.25" stroke="#888" stroke-width="0.5" />
<line x1="329.70" y1="416.50" x2="330.80" y2="416.50" stroke="#888" stroke-width="0.5" />
<line x1="329.70" y1="419.75" x2="330.80" y2="419.75" stroke="#888" stroke-width="0.5" />
<line x1="329.70" y1="423.00" x2="330.80" y2="423.00" stroke="#888" stroke-width="0.5" />
<line x1="329.70" y1="426.25" x2="330.80" y2="426.25" stroke="#888" stroke-width="0.5" />
<line x1="329.70" y1="429.50" x2="330.80" y2="429.50" stroke="#888" stroke-width="0.5" />
<line x1="329.70" y1="432.75" x2="330.80" y2="432.75" stroke="#888" stroke-width="0.5" />
<line x1="329.70" y1="436.00" x2="330.80" y2="436.00" stroke="#888" stroke-width="0.5" />
<line x1="329.70" y1="439.25" x2="330.80" y2="439.25" stroke="#888" stroke-width="0.5" />
<line x1="329.70" y1="442.50" x2="330.80" y2="442.50" stroke="#888" stroke-width="0.5" />
<line x1="329.70" y1="445.75" x2="330.80" y2="445.75" stroke="#888" stroke-width="0.5" />
<line x1="329.70" y1="449.00" x2="330.80" y2="449.00" stroke="#888" stroke-width="0.5" />
<line x1="329.70" y1="452.25" x2="330.80" y2="452.25" stroke="#888" stroke-width="0.5" />
<line x1="329.70" y1="455.50" x2="330.80" y2="455.50" stroke="#888" stroke-width="0.5" />
<line x1="329.70" y1="458.75" x2="330.80" y2="458.75" stroke="#888" stroke-width="0.5" />
<line x1="329.70" y1="462.00" x2="330.80" y2="462.00" stroke="#888" stroke-width="0.5" />
<line x1="329.70" y1="465.25" x2="330.80" y2="465.25" stroke="#888" stroke-width="0.5" />
<line x1="329.70" y1="468.50" x2="330.80" y2="468.50" stroke="#888" stroke-width="0.5" />
<line x1="329.70" y1="471.75" x2="330.80" y2="471.75" stroke="#888" stroke-width="0.5" />
<line x1="328.80" y1="391.00" x2="330.80" y2="391.00" stroke="#555" stroke-width="0.9" />
<line x1="328.80" y1="407.30" x2="330.80" y2="407.30" stroke="#555" stroke-width="0.9" />
<line x1="328.80" y1="423.60" x2="330.80" y2="423.60" stroke="#555" stroke-width="0.9" />
<line x1="328.80" y1="439.90" x2="330.80" y2="439.90" stroke="#555" stroke-width="0.9" />
<line x1="328.80" y1="456.20" x2="330.80" y2="456.20" stroke="#555" stroke-width="0.9" />
<line x1="328.80" y1="472.50" x2="330.80" y2="472.50" stroke="#555" stroke-width="0.9" />
<line x1="332.80" y1="475.10" x2="332.80" y2="476.00" stroke="#888" stroke-width="0.5" />
<line x1="336.05" y1="475.10" x2="336.05" y2="476.00" stroke="#888" stroke-width="0.5" />
<line x1="339.30" y1="475.10" x2="339.30" y2="476.00" stroke="#888" stroke-width="0.5" />
<line x1="342.55" y1="475.10" x2="342.55" y2="476.00" stroke="#888" stroke-width="0.5" />
<line x1="345.80" y1="475.10" x2="345.80" y2="476.00" stroke="#888" stroke-width="0.5" />
<line x1="349.05" y1="475.10" x2="349.05" y2="476.00" stroke="#888" stroke-width="0.5" />
<line x1="352.30" y1="475.10" x2="352.30" y2="476.00" stroke="#888" stroke-width="0.5" />
<line x1="355.55" y1="475.10" x2="355.55" y2="476.00" stroke="#888" stroke-width="0.5" />
<line x1="358.80" y1="475.10" x2="358.80" y2="476.00" stroke="#888" stroke-width="0.5" />
<line x1="362.05" y1="475.10" x2="362.05" y2="476.00" stroke="#888" stroke-width="0.5" />
<line x1="365.30" y1="475.10" x2="365.30" y2="476.00" stroke="#888" stroke-width="0.5" />
<line x1="368.55" y1="475.10" x2="368.55" y2="476.00" stroke="#888" stroke-width="0.5" />
<line x1="371.80" y1="475.10" x2="371.80" y2="476.00" stroke="#888" stroke-width="0.5" />
<line x1="375.05" y1="475.10" x2="375.05" y2="476.00" stroke="#888" stroke-width="0.5" />
<line x1="378.30" y1="475.10" x2="378.30" y2="476.00" stroke="#888" stroke-width="0.5" />
<line x1="381.55" y1="475.10" x2="381.55" y2="476.00" stroke="#888" stroke-width="0.5" />
<line x1="384.80" y1="475.10" x2="384.80" y2="476.00" stroke="#888" stroke-width="0.5" />
<line x1="388.05" y1="475.10" x2="388.05" y2="476.00" stroke="#888" stroke-width="0.5" />
<line x1="391.30" y1="475.10" x2="391.30" y2="476.00" stroke="#888" stroke-width="0.5" />
<line x1="394.55" y1="475.10" x2="394.55" y2="476.00" stroke="#888" stroke-width="0.5" />
<line x1="397.80" y1="475.10" x2="397.80" y2="476.00" stroke="#888" stroke-width="0.5" />
<line x1="401.05" y1="475.10" x2="401.05" y2="476.00" stroke="#888" stroke-width="0.5" />
<line x1="404.30" y1="475.10" x2="404.30" y2="476.00" stroke="#888" stroke-width="0.5" />
<line x1="407.55" y1="475.10" x2="407.55" y2="476.00" stroke="#888" stroke-width="0.5" />
<line x1="410.80" y1="475.10" x2="410.80" y2="476.00" stroke="#888" stroke-width="0.5" />
<line x1="414.05" y1="475.10" x2="414.05" y2="476.00" stroke="#888" stroke-width="0.5" />
<line x1="338.80" y1="475.10" x2="338.80" y2="476.70" stroke="#555" stroke-width="0.9" />
<line x1="356.80" y1="475.10" x2="356.80" y2="476.70" stroke="#555" stroke-width="0.9" />
<line x1="373.80" y1="475.10" x2="373.80" y2="476.70" stroke="#555" stroke-width="0.9" />
<line x1="390.80" y1="475.10" x2="390.80" y2="476.70" stroke="#555" stroke-width="0.9" />
<line x1="407.80" y1="475.10" x2="407.80" y2="476.70" stroke="#555" stroke-width="0.9" />
<text x="373.20" y="379.20" font-size="11.2" text-anchor="middle" font-weight="normal" fill="#111" stroke="#111" stroke-width="0.25" >LAG3</text>
<path d="M433.5 474.7L433.5 468.0L435.0 474.3L439.2 474.3L445.0 469.9L448.8 465.1L451.7 464.2L454.6 457.4L457.5 445.9L459.4 434.3L461.3 422.8L463.3 413.2L465.2 406.5L466.5 403.6L467.5 405.5L468.7 399.7L469.6 407.4L471.0 422.8L472.3 436.3L473.8 445.9L475.8 451.7L477.7 456.5L480.0 459.3L482.5 453.6L484.4 447.8L486.3 444.0L488.8 443.0L490.8 444.0L492.1 449.7L493.7 461.3L495.4 469.9L497.9 473.8L499.8 474.3L499.8 474.7Z" fill="#86daf3" stroke="#3fb2d8" stroke-width="0.8" stroke-linejoin="round"/>
<path d="M454.6 474.7L454.6 474.3L459.4 470.9L463.3 468.0L466.2 461.3L468.1 457.4L470.0 455.5L471.9 457.4L473.8 460.3L475.8 459.3L477.7 462.2L479.6 460.3L481.2 453.6L482.5 444.0L484.0 432.4L485.4 422.8L486.9 413.2L488.5 408.0L489.6 411.3L490.8 424.7L491.5 438.2L492.7 453.6L494.0 463.2L496.0 470.9L497.9 474.0L497.9 474.7Z" fill="#f59b9d" stroke="#e4625e" stroke-width="0.8" stroke-linejoin="round"/>
<clipPath id="cKLRG1"><path d="M454.6 474.7L454.6 474.3L459.4 470.9L463.3 468.0L466.2 461.3L468.1 457.4L470.0 455.5L471.9 457.4L473.8 460.3L475.8 459.3L477.7 462.2L479.6 460.3L481.2 453.6L482.5 444.0L484.0 432.4L485.4 422.8L486.9 413.2L488.5 408.0L489.6 411.3L490.8 424.7L491.5 438.2L492.7 453.6L494.0 463.2L496.0 470.9L497.9 474.0L497.9 474.7Z"/></clipPath>
<path d="M433.5 474.7L433.5 468.0L435.0 474.3L439.2 474.3L445.0 469.9L448.8 465.1L451.7 464.2L454.6 457.4L457.5 445.9L459.4 434.3L461.3 422.8L463.3 413.2L465.2 406.5L466.5 403.6L467.5 405.5L468.7 399.7L469.6 407.4L471.0 422.8L472.3 436.3L473.8 445.9L475.8 451.7L477.7 456.5L480.0 459.3L482.5 453.6L484.4 447.8L486.3 444.0L488.8 443.0L490.8 444.0L492.1 449.7L493.7 461.3L495.4 469.9L497.9 473.8L499.8 474.3L499.8 474.7Z" fill="#8ea7c2" stroke="#6f93b6" stroke-width="0.8" clip-path="url(#cKLRG1)"/>
<path d="M433.5 388.5H517.6V474.7" fill="none" stroke="#858585" stroke-width="0.9"/>
<line x1="433.50" y1="388.50" x2="433.50" y2="474.70" stroke="#4ab" stroke-width="0.9" />
<line x1="433.50" y1="474.70" x2="517.60" y2="474.70" stroke="#8ab" stroke-width="0.6" />
<line x1="432.40" y1="390.50" x2="433.50" y2="390.50" stroke="#888" stroke-width="0.5" />
<line x1="432.40" y1="393.75" x2="433.50" y2="393.75" stroke="#888" stroke-width="0.5" />
<line x1="432.40" y1="397.00" x2="433.50" y2="397.00" stroke="#888" stroke-width="0.5" />
<line x1="432.40" y1="400.25" x2="433.50" y2="400.25" stroke="#888" stroke-width="0.5" />
<line x1="432.40" y1="403.50" x2="433.50" y2="403.50" stroke="#888" stroke-width="0.5" />
<line x1="432.40" y1="406.75" x2="433.50" y2="406.75" stroke="#888" stroke-width="0.5" />
<line x1="432.40" y1="410.00" x2="433.50" y2="410.00" stroke="#888" stroke-width="0.5" />
<line x1="432.40" y1="413.25" x2="433.50" y2="413.25" stroke="#888" stroke-width="0.5" />
<line x1="432.40" y1="416.50" x2="433.50" y2="416.50" stroke="#888" stroke-width="0.5" />
<line x1="432.40" y1="419.75" x2="433.50" y2="419.75" stroke="#888" stroke-width="0.5" />
<line x1="432.40" y1="423.00" x2="433.50" y2="423.00" stroke="#888" stroke-width="0.5" />
<line x1="432.40" y1="426.25" x2="433.50" y2="426.25" stroke="#888" stroke-width="0.5" />
<line x1="432.40" y1="429.50" x2="433.50" y2="429.50" stroke="#888" stroke-width="0.5" />
<line x1="432.40" y1="432.75" x2="433.50" y2="432.75" stroke="#888" stroke-width="0.5" />
<line x1="432.40" y1="436.00" x2="433.50" y2="436.00" stroke="#888" stroke-width="0.5" />
<line x1="432.40" y1="439.25" x2="433.50" y2="439.25" stroke="#888" stroke-width="0.5" />
<line x1="432.40" y1="442.50" x2="433.50" y2="442.50" stroke="#888" stroke-width="0.5" />
<line x1="432.40" y1="445.75" x2="433.50" y2="445.75" stroke="#888" stroke-width="0.5" />
<line x1="432.40" y1="449.00" x2="433.50" y2="449.00" stroke="#888" stroke-width="0.5" />
<line x1="432.40" y1="452.25" x2="433.50" y2="452.25" stroke="#888" stroke-width="0.5" />
<line x1="432.40" y1="455.50" x2="433.50" y2="455.50" stroke="#888" stroke-width="0.5" />
<line x1="432.40" y1="458.75" x2="433.50" y2="458.75" stroke="#888" stroke-width="0.5" />
<line x1="432.40" y1="462.00" x2="433.50" y2="462.00" stroke="#888" stroke-width="0.5" />
<line x1="432.40" y1="465.25" x2="433.50" y2="465.25" stroke="#888" stroke-width="0.5" />
<line x1="432.40" y1="468.50" x2="433.50" y2="468.50" stroke="#888" stroke-width="0.5" />
<line x1="432.40" y1="471.75" x2="433.50" y2="471.75" stroke="#888" stroke-width="0.5" />
<line x1="431.50" y1="391.00" x2="433.50" y2="391.00" stroke="#555" stroke-width="0.9" />
<line x1="431.50" y1="407.30" x2="433.50" y2="407.30" stroke="#555" stroke-width="0.9" />
<line x1="431.50" y1="423.60" x2="433.50" y2="423.60" stroke="#555" stroke-width="0.9" />
<line x1="431.50" y1="439.90" x2="433.50" y2="439.90" stroke="#555" stroke-width="0.9" />
<line x1="431.50" y1="456.20" x2="433.50" y2="456.20" stroke="#555" stroke-width="0.9" />
<line x1="431.50" y1="472.50" x2="433.50" y2="472.50" stroke="#555" stroke-width="0.9" />
<line x1="435.50" y1="475.10" x2="435.50" y2="476.00" stroke="#888" stroke-width="0.5" />
<line x1="438.75" y1="475.10" x2="438.75" y2="476.00" stroke="#888" stroke-width="0.5" />
<line x1="442.00" y1="475.10" x2="442.00" y2="476.00" stroke="#888" stroke-width="0.5" />
<line x1="445.25" y1="475.10" x2="445.25" y2="476.00" stroke="#888" stroke-width="0.5" />
<line x1="448.50" y1="475.10" x2="448.50" y2="476.00" stroke="#888" stroke-width="0.5" />
<line x1="451.75" y1="475.10" x2="451.75" y2="476.00" stroke="#888" stroke-width="0.5" />
<line x1="455.00" y1="475.10" x2="455.00" y2="476.00" stroke="#888" stroke-width="0.5" />
<line x1="458.25" y1="475.10" x2="458.25" y2="476.00" stroke="#888" stroke-width="0.5" />
<line x1="461.50" y1="475.10" x2="461.50" y2="476.00" stroke="#888" stroke-width="0.5" />
<line x1="464.75" y1="475.10" x2="464.75" y2="476.00" stroke="#888" stroke-width="0.5" />
<line x1="468.00" y1="475.10" x2="468.00" y2="476.00" stroke="#888" stroke-width="0.5" />
<line x1="471.25" y1="475.10" x2="471.25" y2="476.00" stroke="#888" stroke-width="0.5" />
<line x1="474.50" y1="475.10" x2="474.50" y2="476.00" stroke="#888" stroke-width="0.5" />
<line x1="477.75" y1="475.10" x2="477.75" y2="476.00" stroke="#888" stroke-width="0.5" />
<line x1="481.00" y1="475.10" x2="481.00" y2="476.00" stroke="#888" stroke-width="0.5" />
<line x1="484.25" y1="475.10" x2="484.25" y2="476.00" stroke="#888" stroke-width="0.5" />
<line x1="487.50" y1="475.10" x2="487.50" y2="476.00" stroke="#888" stroke-width="0.5" />
<line x1="490.75" y1="475.10" x2="490.75" y2="476.00" stroke="#888" stroke-width="0.5" />
<line x1="494.00" y1="475.10" x2="494.00" y2="476.00" stroke="#888" stroke-width="0.5" />
<line x1="497.25" y1="475.10" x2="497.25" y2="476.00" stroke="#888" stroke-width="0.5" />
<line x1="500.50" y1="475.10" x2="500.50" y2="476.00" stroke="#888" stroke-width="0.5" />
<line x1="503.75" y1="475.10" x2="503.75" y2="476.00" stroke="#888" stroke-width="0.5" />
<line x1="507.00" y1="475.10" x2="507.00" y2="476.00" stroke="#888" stroke-width="0.5" />
<line x1="510.25" y1="475.10" x2="510.25" y2="476.00" stroke="#888" stroke-width="0.5" />
<line x1="513.50" y1="475.10" x2="513.50" y2="476.00" stroke="#888" stroke-width="0.5" />
<line x1="516.75" y1="475.10" x2="516.75" y2="476.00" stroke="#888" stroke-width="0.5" />
<line x1="441.50" y1="475.10" x2="441.50" y2="476.70" stroke="#555" stroke-width="0.9" />
<line x1="459.50" y1="475.10" x2="459.50" y2="476.70" stroke="#555" stroke-width="0.9" />
<line x1="476.50" y1="475.10" x2="476.50" y2="476.70" stroke="#555" stroke-width="0.9" />
<line x1="493.50" y1="475.10" x2="493.50" y2="476.70" stroke="#555" stroke-width="0.9" />
<line x1="510.50" y1="475.10" x2="510.50" y2="476.70" stroke="#555" stroke-width="0.9" />
<text x="474.80" y="379.80" font-size="11.2" text-anchor="middle" font-weight="normal" fill="#111" stroke="#111" stroke-width="0.25" >KLRG1</text>
<text transform="translate(11.60 431.00) rotate(-90)" font-size="11.2" text-anchor="middle" fill="#111" stroke="#111" stroke-width="0.25" >% of max</text>
<line x1="66.50" y1="508.50" x2="66.50" y2="512.50" stroke="#333" stroke-width="1" />
<line x1="64.00" y1="508.50" x2="69.00" y2="508.50" stroke="#333" stroke-width="1" />
<rect x="60.50" y="512.50" width="12.00" height="79.00" fill="white" stroke="#1a1a1a" stroke-width="1" />
<line x1="89.50" y1="530.50" x2="89.50" y2="535.00" stroke="#333" stroke-width="1" />
<line x1="87.00" y1="530.50" x2="92.00" y2="530.50" stroke="#333" stroke-width="1" />
<rect x="84.00" y="535.00" width="12.00" height="56.50" fill="#000" stroke="none" stroke-width="0" />
<line x1="54.50" y1="495.80" x2="54.50" y2="592.00" stroke="#333" stroke-width="1" />
<line x1="51.50" y1="591.50" x2="103.00" y2="591.50" stroke="#333" stroke-width="1" />
<line x1="51.30" y1="496.50" x2="54.50" y2="496.50" stroke="#333" stroke-width="1" />
<text x="47.20" y="500.49" font-size="10.8" text-anchor="end" font-weight="normal" fill="#111" stroke="#111" stroke-width="0.25" >5,000</text>
<line x1="51.30" y1="515.50" x2="54.50" y2="515.50" stroke="#333" stroke-width="1" />
<text x="47.20" y="519.49" font-size="10.8" text-anchor="end" font-weight="normal" fill="#111" stroke="#111" stroke-width="0.25" >4,000</text>
<line x1="51.30" y1="534.50" x2="54.50" y2="534.50" stroke="#333" stroke-width="1" />
<text x="47.20" y="538.49" font-size="10.8" text-anchor="end" font-weight="normal" fill="#111" stroke="#111" stroke-width="0.25" >3,000</text>
<line x1="51.30" y1="553.50" x2="54.50" y2="553.50" stroke="#333" stroke-width="1" />
<text x="47.20" y="557.49" font-size="10.8" text-anchor="end" font-weight="normal" fill="#111" stroke="#111" stroke-width="0.25" >2,000</text>
<line x1="51.30" y1="572.50" x2="54.50" y2="572.50" stroke="#333" stroke-width="1" />
<text x="47.20" y="576.49" font-size="10.8" text-anchor="end" font-weight="normal" fill="#111" stroke="#111" stroke-width="0.25" >1,000</text>
<line x1="51.30" y1="591.50" x2="54.50" y2="591.50" stroke="#333" stroke-width="1" />
<text x="47.20" y="595.49" font-size="10.8" text-anchor="end" font-weight="normal" fill="#111" stroke="#111" stroke-width="0.25" >0</text>
<line x1="61.30" y1="500.50" x2="95.80" y2="500.50" stroke="#777" stroke-width="1" />
<text x="78.80" y="500.00" font-size="10" text-anchor="middle" font-weight="bold" fill="#111" stroke="#111" stroke-width="0.25" letter-spacing="0.7">**</text>
<text x="66.30" y="609.30" font-size="10.8" text-anchor="middle" font-weight="normal" fill="#111" stroke="#111" stroke-width="0.25" >WT</text>
<text x="91.60" y="609.30" font-size="10.8" text-anchor="middle" font-weight="normal" fill="#111" stroke="#111" stroke-width="0.25" >KO</text>
<text transform="translate(11.60 551.00) rotate(-90)" font-size="11" text-anchor="middle" fill="#111" stroke="#111" stroke-width="0.25" >MFI</text>
<line x1="162.50" y1="513.50" x2="162.50" y2="519.50" stroke="#333" stroke-width="1" />
<line x1="160.00" y1="513.50" x2="165.00" y2="513.50" stroke="#333" stroke-width="1" />
<rect x="156.50" y="519.50" width="12.00" height="72.00" fill="white" stroke="#1a1a1a" stroke-width="1" />
<line x1="191.50" y1="540.50" x2="191.50" y2="546.80" stroke="#333" stroke-width="1" />
<line x1="189.00" y1="540.50" x2="194.00" y2="540.50" stroke="#333" stroke-width="1" />
<rect x="186.00" y="546.80" width="12.00" height="44.70" fill="#000" stroke="none" stroke-width="0" />
<line x1="148.50" y1="496.20" x2="148.50" y2="592.00" stroke="#333" stroke-width="1" />
<line x1="145.50" y1="591.50" x2="206.30" y2="591.50" stroke="#333" stroke-width="1" />
<line x1="145.30" y1="496.50" x2="148.50" y2="496.50" stroke="#333" stroke-width="1" />
<text x="142.60" y="500.89" font-size="10.8" text-anchor="end" font-weight="normal" fill="#111" stroke="#111" stroke-width="0.25" >800</text>
<line x1="145.30" y1="520.50" x2="148.50" y2="520.50" stroke="#333" stroke-width="1" />
<text x="142.60" y="524.59" font-size="10.8" text-anchor="end" font-weight="normal" fill="#111" stroke="#111" stroke-width="0.25" >600</text>
<line x1="145.30" y1="544.50" x2="148.50" y2="544.50" stroke="#333" stroke-width="1" />
<text x="142.60" y="548.19" font-size="10.8" text-anchor="end" font-weight="normal" fill="#111" stroke="#111" stroke-width="0.25" >400</text>
<line x1="145.30" y1="567.50" x2="148.50" y2="567.50" stroke="#333" stroke-width="1" />
<text x="142.60" y="571.89" font-size="10.8" text-anchor="end" font-weight="normal" fill="#111" stroke="#111" stroke-width="0.25" >200</text>
<line x1="145.30" y1="591.50" x2="148.50" y2="591.50" stroke="#333" stroke-width="1" />
<text x="142.60" y="595.49" font-size="10.8" text-anchor="end" font-weight="normal" fill="#111" stroke="#111" stroke-width="0.25" >0</text>
<line x1="160.00" y1="504.50" x2="195.80" y2="504.50" stroke="#777" stroke-width="1" />
<text x="179.50" y="503.00" font-size="10" text-anchor="middle" font-weight="bold" fill="#111" stroke="#111" stroke-width="0.25" >*</text>
<text x="162.90" y="609.30" font-size="10.8" text-anchor="middle" font-weight="normal" fill="#111" stroke="#111" stroke-width="0.25" >WT</text>
<text x="192.30" y="609.30" font-size="10.8" text-anchor="middle" font-weight="normal" fill="#111" stroke="#111" stroke-width="0.25" >KO</text>
<line x1="265.50" y1="514.50" x2="265.50" y2="537.50" stroke="#333" stroke-width="1" />
<line x1="263.00" y1="514.50" x2="268.00" y2="514.50" stroke="#333" stroke-width="1" />
<rect x="259.50" y="537.50" width="12.00" height="54.00" fill="white" stroke="#1a1a1a" stroke-width="1" />
<line x1="294.50" y1="582.50" x2="294.50" y2="583.80" stroke="#333" stroke-width="1" />
<line x1="292.00" y1="582.50" x2="297.00" y2="582.50" stroke="#333" stroke-width="1" />
<rect x="289.00" y="583.80" width="12.00" height="7.70" fill="#000" stroke="none" stroke-width="0" />
<line x1="251.50" y1="496.20" x2="251.50" y2="592.00" stroke="#333" stroke-width="1" />
<line x1="248.50" y1="591.50" x2="308.80" y2="591.50" stroke="#333" stroke-width="1" />
<line x1="248.30" y1="496.50" x2="251.50" y2="496.50" stroke="#333" stroke-width="1" />
<text x="245.60" y="500.89" font-size="10.8" text-anchor="end" font-weight="normal" fill="#111" stroke="#111" stroke-width="0.25" >500</text>
<line x1="248.30" y1="515.50" x2="251.50" y2="515.50" stroke="#333" stroke-width="1" />
<text x="245.60" y="519.79" font-size="10.8" text-anchor="end" font-weight="normal" fill="#111" stroke="#111" stroke-width="0.25" >400</text>
<line x1="248.30" y1="534.50" x2="251.50" y2="534.50" stroke="#333" stroke-width="1" />
<text x="245.60" y="538.69" font-size="10.8" text-anchor="end" font-weight="normal" fill="#111" stroke="#111" stroke-width="0.25" >300</text>
<line x1="248.30" y1="553.50" x2="251.50" y2="553.50" stroke="#333" stroke-width="1" />
<text x="245.60" y="557.59" font-size="10.8" text-anchor="end" font-weight="normal" fill="#111" stroke="#111" stroke-width="0.25" >200</text>
<line x1="248.30" y1="572.50" x2="251.50" y2="572.50" stroke="#333" stroke-width="1" />
<text x="245.60" y="576.59" font-size="10.8" text-anchor="end" font-weight="normal" fill="#111" stroke="#111" stroke-width="0.25" >100</text>
<line x1="248.30" y1="591.50" x2="251.50" y2="591.50" stroke="#333" stroke-width="1" />
<text x="245.60" y="595.49" font-size="10.8" text-anchor="end" font-weight="normal" fill="#111" stroke="#111" stroke-width="0.25" >0</text>
<line x1="260.00" y1="504.50" x2="295.50" y2="504.50" stroke="#777" stroke-width="1" />
<text x="277.50" y="501.30" font-size="10" text-anchor="middle" font-weight="bold" fill="#111" stroke="#111" stroke-width="0.25" >*</text>
<text x="265.60" y="609.30" font-size="10.8" text-anchor="middle" font-weight="normal" fill="#111" stroke="#111" stroke-width="0.25" >WT</text>
<text x="295.30" y="609.30" font-size="10.8" text-anchor="middle" font-weight="normal" fill="#111" stroke="#111" stroke-width="0.25" >KO</text>
<line x1="373.50" y1="513.50" x2="373.50" y2="525.50" stroke="#333" stroke-width="1" />
<line x1="371.00" y1="513.50" x2="376.00" y2="513.50" stroke="#333" stroke-width="1" />
<rect x="367.50" y="525.50" width="11.00" height="66.00" fill="white" stroke="#1a1a1a" stroke-width="1" />
<line x1="399.50" y1="564.50" x2="399.50" y2="568.30" stroke="#333" stroke-width="1" />
<line x1="397.00" y1="564.50" x2="402.00" y2="564.50" stroke="#333" stroke-width="1" />
<rect x="394.00" y="568.30" width="11.00" height="23.20" fill="#000" stroke="none" stroke-width="0" />
<line x1="360.50" y1="496.20" x2="360.50" y2="592.00" stroke="#333" stroke-width="1" />
<line x1="357.50" y1="591.50" x2="412.00" y2="591.50" stroke="#333" stroke-width="1" />
<line x1="357.30" y1="496.50" x2="360.50" y2="496.50" stroke="#333" stroke-width="1" />
<text x="353.80" y="500.89" font-size="10.8" text-anchor="end" font-weight="normal" fill="#111" stroke="#111" stroke-width="0.25" >1,000</text>
<line x1="357.30" y1="515.50" x2="360.50" y2="515.50" stroke="#333" stroke-width="1" />
<text x="353.80" y="519.79" font-size="10.8" text-anchor="end" font-weight="normal" fill="#111" stroke="#111" stroke-width="0.25" >800</text>
<line x1="357.30" y1="534.50" x2="360.50" y2="534.50" stroke="#333" stroke-width="1" />
<text x="353.80" y="538.69" font-size="10.8" text-anchor="end" font-weight="normal" fill="#111" stroke="#111" stroke-width="0.25" >600</text>
<line x1="357.30" y1="553.50" x2="360.50" y2="553.50" stroke="#333" stroke-width="1" />
<text x="353.80" y="557.59" font-size="10.8" text-anchor="end" font-weight="normal" fill="#111" stroke="#111" stroke-width="0.25" >400</text>
<line x1="357.30" y1="572.50" x2="360.50" y2="572.50" stroke="#333" stroke-width="1" />
<text x="353.80" y="576.59" font-size="10.8" text-anchor="end" font-weight="normal" fill="#111" stroke="#111" stroke-width="0.25" >200</text>
<line x1="357.30" y1="591.50" x2="360.50" y2="591.50" stroke="#333" stroke-width="1" />
<text x="353.80" y="595.49" font-size="10.8" text-anchor="end" font-weight="normal" fill="#111" stroke="#111" stroke-width="0.25" >0</text>
<line x1="368.80" y1="504.50" x2="403.80" y2="504.50" stroke="#777" stroke-width="1" />
<text x="386.30" y="502.50" font-size="10" text-anchor="middle" font-weight="bold" fill="#111" stroke="#111" stroke-width="0.25" >*</text>
<text x="372.90" y="609.30" font-size="10.8" text-anchor="middle" font-weight="normal" fill="#111" stroke="#111" stroke-width="0.25" >WT</text>
<text x="400.00" y="609.30" font-size="10.8" text-anchor="middle" font-weight="normal" fill="#111" stroke="#111" stroke-width="0.25" >KO</text>
<line x1="476.50" y1="523.50" x2="476.50" y2="534.50" stroke="#333" stroke-width="1" />
<line x1="474.00" y1="523.50" x2="479.00" y2="523.50" stroke="#333" stroke-width="1" />
<rect x="470.50" y="534.50" width="11.00" height="57.00" fill="white" stroke="#1a1a1a" stroke-width="1" />
<line x1="502.50" y1="568.50" x2="502.50" y2="571.20" stroke="#333" stroke-width="1" />
<line x1="500.00" y1="568.50" x2="505.00" y2="568.50" stroke="#333" stroke-width="1" />
<rect x="497.00" y="571.20" width="11.00" height="20.30" fill="#000" stroke="none" stroke-width="0" />
<line x1="462.50" y1="496.20" x2="462.50" y2="592.00" stroke="#333" stroke-width="1" />
<line x1="459.50" y1="591.50" x2="515.00" y2="591.50" stroke="#333" stroke-width="1" />
<line x1="459.30" y1="496.50" x2="462.50" y2="496.50" stroke="#333" stroke-width="1" />
<text x="455.80" y="500.89" font-size="10.8" text-anchor="end" font-weight="normal" fill="#111" stroke="#111" stroke-width="0.25" >4,000</text>
<line x1="459.30" y1="520.50" x2="462.50" y2="520.50" stroke="#333" stroke-width="1" />
<text x="455.80" y="524.59" font-size="10.8" text-anchor="end" font-weight="normal" fill="#111" stroke="#111" stroke-width="0.25" >3,000</text>
<line x1="459.30" y1="544.50" x2="462.50" y2="544.50" stroke="#333" stroke-width="1" />
<text x="455.80" y="548.19" font-size="10.8" text-anchor="end" font-weight="normal" fill="#111" stroke="#111" stroke-width="0.25" >2,000</text>
<line x1="459.30" y1="567.50" x2="462.50" y2="567.50" stroke="#333" stroke-width="1" />
<text x="455.80" y="571.89" font-size="10.8" text-anchor="end" font-weight="normal" fill="#111" stroke="#111" stroke-width="0.25" >1,000</text>
<line x1="459.30" y1="591.50" x2="462.50" y2="591.50" stroke="#333" stroke-width="1" />
<text x="455.80" y="595.49" font-size="10.8" text-anchor="end" font-weight="normal" fill="#111" stroke="#111" stroke-width="0.25" >0</text>
<line x1="473.20" y1="506.50" x2="508.50" y2="506.50" stroke="#777" stroke-width="1" />
<text x="493.00" y="502.30" font-size="10" text-anchor="middle" font-weight="bold" fill="#111" stroke="#111" stroke-width="0.25" >*</text>
<text x="475.90" y="609.30" font-size="10.8" text-anchor="middle" font-weight="normal" fill="#111" stroke="#111" stroke-width="0.25" >WT</text>
<text x="503.00" y="609.30" font-size="10.8" text-anchor="middle" font-weight="normal" fill="#111" stroke="#111" stroke-width="0.25" >KO</text>
</svg>
</body></html>
